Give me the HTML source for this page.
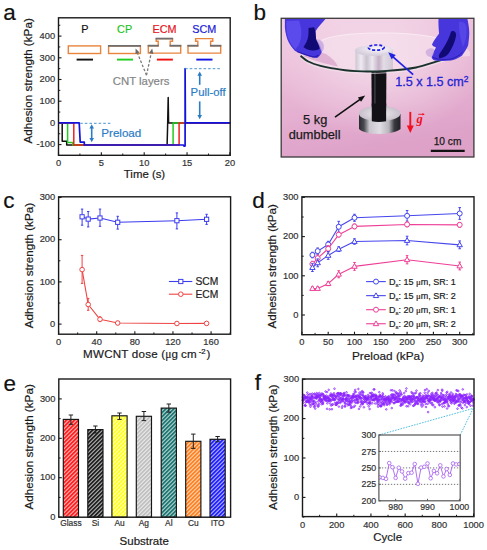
<!DOCTYPE html>
<html><head><meta charset="utf-8"><style>
html,body{margin:0;padding:0;background:#fff;}
svg{display:block;font-family:"Liberation Sans", sans-serif;}
</style></head><body>
<svg width="487" height="550" viewBox="0 0 487 550">
<rect width="487" height="550" fill="#fff"/>
<text x="3.20" y="19.80" font-size="22.5" fill="#111" text-anchor="start"  stroke="#111" stroke-width="0.2">a</text>
<text x="0" y="0" font-size="11.7" fill="#1a1a1a" stroke="#1a1a1a" stroke-width="0.2" text-anchor="middle" transform="translate(28.10,80.90) rotate(-90)" dy="0.35em">Adhesion strength (kPa)</text>
<text x="144.50" y="178.20" font-size="11.4" fill="#1a1a1a" text-anchor="middle"  stroke="#1a1a1a" stroke-width="0.2">Time (s)</text>
<line x1="58.50" y1="144.60" x2="61.50" y2="144.60" stroke="#1a1a1a" stroke-width="1.1" />
<text x="55.10" y="147.35" font-size="9.3" fill="#333333" text-anchor="end"  stroke="#333333" stroke-width="0.2">-100</text>
<line x1="58.50" y1="122.90" x2="61.50" y2="122.90" stroke="#1a1a1a" stroke-width="1.1" />
<text x="55.10" y="125.65" font-size="9.3" fill="#333333" text-anchor="end"  stroke="#333333" stroke-width="0.2">0</text>
<line x1="58.50" y1="101.20" x2="61.50" y2="101.20" stroke="#1a1a1a" stroke-width="1.1" />
<text x="55.10" y="103.95" font-size="9.3" fill="#333333" text-anchor="end"  stroke="#333333" stroke-width="0.2">100</text>
<line x1="58.50" y1="79.50" x2="61.50" y2="79.50" stroke="#1a1a1a" stroke-width="1.1" />
<text x="55.10" y="82.25" font-size="9.3" fill="#333333" text-anchor="end"  stroke="#333333" stroke-width="0.2">200</text>
<line x1="58.50" y1="57.80" x2="61.50" y2="57.80" stroke="#1a1a1a" stroke-width="1.1" />
<text x="55.10" y="60.55" font-size="9.3" fill="#333333" text-anchor="end"  stroke="#333333" stroke-width="0.2">300</text>
<line x1="58.50" y1="36.10" x2="61.50" y2="36.10" stroke="#1a1a1a" stroke-width="1.1" />
<text x="55.10" y="38.85" font-size="9.3" fill="#333333" text-anchor="end"  stroke="#333333" stroke-width="0.2">400</text>
<line x1="58.50" y1="133.75" x2="60.30" y2="133.75" stroke="#1a1a1a" stroke-width="1.0" />
<line x1="58.50" y1="112.05" x2="60.30" y2="112.05" stroke="#1a1a1a" stroke-width="1.0" />
<line x1="58.50" y1="90.35" x2="60.30" y2="90.35" stroke="#1a1a1a" stroke-width="1.0" />
<line x1="58.50" y1="68.65" x2="60.30" y2="68.65" stroke="#1a1a1a" stroke-width="1.0" />
<line x1="58.50" y1="46.95" x2="60.30" y2="46.95" stroke="#1a1a1a" stroke-width="1.0" />
<line x1="58.50" y1="25.25" x2="60.30" y2="25.25" stroke="#1a1a1a" stroke-width="1.0" />
<line x1="58.50" y1="155.30" x2="58.50" y2="152.30" stroke="#1a1a1a" stroke-width="1.1" />
<text x="58.50" y="166.00" font-size="9.3" fill="#333333" text-anchor="middle"  stroke="#333333" stroke-width="0.2">0</text>
<line x1="101.35" y1="155.30" x2="101.35" y2="152.30" stroke="#1a1a1a" stroke-width="1.1" />
<text x="101.35" y="166.00" font-size="9.3" fill="#333333" text-anchor="middle"  stroke="#333333" stroke-width="0.2">5</text>
<line x1="144.20" y1="155.30" x2="144.20" y2="152.30" stroke="#1a1a1a" stroke-width="1.1" />
<text x="144.20" y="166.00" font-size="9.3" fill="#333333" text-anchor="middle"  stroke="#333333" stroke-width="0.2">10</text>
<line x1="187.05" y1="155.30" x2="187.05" y2="152.30" stroke="#1a1a1a" stroke-width="1.1" />
<text x="187.05" y="166.00" font-size="9.3" fill="#333333" text-anchor="middle"  stroke="#333333" stroke-width="0.2">15</text>
<line x1="229.90" y1="155.30" x2="229.90" y2="152.30" stroke="#1a1a1a" stroke-width="1.1" />
<text x="229.90" y="166.00" font-size="9.3" fill="#333333" text-anchor="middle"  stroke="#333333" stroke-width="0.2">20</text>
<line x1="79.92" y1="155.30" x2="79.92" y2="153.50" stroke="#1a1a1a" stroke-width="1.0" />
<line x1="122.78" y1="155.30" x2="122.78" y2="153.50" stroke="#1a1a1a" stroke-width="1.0" />
<line x1="165.62" y1="155.30" x2="165.62" y2="153.50" stroke="#1a1a1a" stroke-width="1.0" />
<line x1="208.47" y1="155.30" x2="208.47" y2="153.50" stroke="#1a1a1a" stroke-width="1.0" />
<text x="84.80" y="33.00" font-size="10.8" fill="#111" text-anchor="middle"  stroke="#111" stroke-width="0.2">P</text>
<text x="124.60" y="33.00" font-size="10.8" fill="#1fc41f" text-anchor="middle"  stroke="#1fc41f" stroke-width="0.2">CP</text>
<text x="164.50" y="33.00" font-size="10.8" fill="#e8141e" text-anchor="middle"  stroke="#e8141e" stroke-width="0.2">ECM</text>
<text x="204.20" y="33.00" font-size="10.8" fill="#1c1cd8" text-anchor="middle"  stroke="#1c1cd8" stroke-width="0.2">SCM</text>
<rect x="68.3" y="45.9" width="32.3" height="7.6" fill="none" stroke="#e8843c" stroke-width="1.4"/>
<rect x="108.6" y="45.9" width="31.8" height="7.6" fill="none" stroke="#e8843c" stroke-width="1.4"/>
<line x1="108.00" y1="45.90" x2="141.00" y2="45.90" stroke="#6e6e6e" stroke-width="1.8" />
<path d="M148.30,45.70 L158.20,45.70 L158.20,41.20 L156.20,41.20 L156.20,38.60 L172.50,38.60 L172.50,41.20 L170.20,41.20 L170.20,45.70 L180.70,45.70 L180.70,53.10 L148.30,53.10 L148.30,45.70 Z" fill="none" stroke="#e8843c" stroke-width="1.4" stroke-linejoin="miter"/>
<line x1="147.70" y1="45.70" x2="158.80" y2="45.70" stroke="#6e6e6e" stroke-width="1.8" />
<line x1="169.60" y1="45.70" x2="181.30" y2="45.70" stroke="#6e6e6e" stroke-width="1.8" />
<line x1="155.60" y1="38.60" x2="173.10" y2="38.60" stroke="#6e6e6e" stroke-width="1.8" />
<path d="M188.00,45.70 L197.80,45.70 L197.80,41.20 L195.60,41.20 L195.60,38.60 L212.80,38.60 L212.80,41.20 L210.60,41.20 L210.60,45.70 L220.70,45.70 L220.70,53.10 L188.00,53.10 L188.00,45.70 Z" fill="none" stroke="#e8843c" stroke-width="1.4" stroke-linejoin="miter"/>
<line x1="187.40" y1="45.70" x2="198.40" y2="45.70" stroke="#6e6e6e" stroke-width="1.8" />
<line x1="210.00" y1="45.70" x2="221.30" y2="45.70" stroke="#6e6e6e" stroke-width="1.8" />
<line x1="76.60" y1="59.60" x2="93.00" y2="59.60" stroke="#111" stroke-width="1.9" />
<line x1="117.00" y1="59.60" x2="133.00" y2="59.60" stroke="#22cc22" stroke-width="1.9" />
<line x1="156.90" y1="59.60" x2="172.90" y2="59.60" stroke="#ee1111" stroke-width="1.9" />
<line x1="196.30" y1="59.60" x2="212.50" y2="59.60" stroke="#1515e0" stroke-width="1.9" />
<line x1="146.50" y1="75.20" x2="137.50" y2="53.23" stroke="#7a7a7a" stroke-width="1.3" stroke-dasharray="2.6,1.8"/>
<path d="M135.60,48.60 L139.53,52.39 L135.46,54.06 Z" fill="#6a6a6a"/>
<line x1="146.50" y1="75.20" x2="151.15" y2="53.49" stroke="#7a7a7a" stroke-width="1.3" stroke-dasharray="2.6,1.8"/>
<path d="M152.20,48.60 L153.30,53.95 L149.00,53.03 Z" fill="#6a6a6a"/>
<text x="112.70" y="84.50" font-size="11.4" fill="#858585" text-anchor="start"  stroke="#858585" stroke-width="0.2">CNT layers</text>
<polyline points="58.50,122.90 62.20,122.90 62.20,141.30 66.70,141.30 66.70,145.00 167.10,145.00 167.60,126.50 168.20,97.40 168.60,122.90 230.20,122.90" fill="none" stroke="#111" stroke-width="1.5" stroke-linejoin="round" />
<polyline points="58.50,122.90 67.60,122.90 67.60,142.50 72.80,142.50 72.80,145.00 173.10,145.00 173.10,122.90 230.20,122.90" fill="none" stroke="#22cc22" stroke-width="1.5" stroke-linejoin="round" />
<polyline points="58.50,122.90 73.80,122.90 73.80,145.00 179.10,145.00 179.10,122.90 230.20,122.90" fill="none" stroke="#ee2222" stroke-width="1.5" stroke-linejoin="round" />
<polyline points="58.50,122.90 79.20,122.90 80.20,142.10 84.30,142.10 84.30,145.00 183.30,145.00 184.20,146.20 185.10,146.00 185.10,68.70 185.40,122.90 230.20,122.90" fill="none" stroke="#1212dd" stroke-width="1.7" stroke-linejoin="round" />
<line x1="80.20" y1="123.30" x2="111.40" y2="123.30" stroke="#4a94d4" stroke-width="1.0" stroke-dasharray="2.6,2"/>
<line x1="91.70" y1="127.50" x2="91.70" y2="139.00" stroke="#2a7cc6" stroke-width="1.6" />
<path d="M91.7,124.2 L89.4,128.6 L94.0,128.6 Z" fill="#2a7cc6"/>
<path d="M91.7,142.3 L89.4,137.9 L94.0,137.9 Z" fill="#2a7cc6"/>
<text x="101.30" y="136.60" font-size="11.6" fill="#2a7cc6" text-anchor="start"  stroke="#2a7cc6" stroke-width="0.2">Preload</text>
<line x1="185.10" y1="68.70" x2="220.00" y2="68.70" stroke="#4a94d4" stroke-width="1.0" stroke-dasharray="2.6,2"/>
<line x1="199.70" y1="75.00" x2="199.70" y2="84.80" stroke="#2a7cc6" stroke-width="1.6" />
<path d="M199.7,71.4 L197.4,75.8 L202.0,75.8 Z" fill="#2a7cc6"/>
<line x1="199.70" y1="101.40" x2="199.70" y2="115.50" stroke="#2a7cc6" stroke-width="1.6" />
<path d="M199.7,119.3 L197.4,114.9 L202.0,114.9 Z" fill="#2a7cc6"/>
<text x="190.60" y="96.30" font-size="11.3" fill="#2a7cc6" text-anchor="start"  stroke="#2a7cc6" stroke-width="0.2">Pull-off</text>
<rect x="58.50" y="17.80" width="171.70" height="137.50" fill="none" stroke="#1a1a1a" stroke-width="1.4"/>
<text x="253.60" y="19.80" font-size="22.5" fill="#111" text-anchor="start"  stroke="#111" stroke-width="0.2">b</text>
<defs><linearGradient id="pk" x1="0" y1="0" x2="0.25" y2="1"><stop offset="0" stop-color="#f2cfe4"/><stop offset="0.45" stop-color="#e9b9d6"/><stop offset="1" stop-color="#dea2c9"/></linearGradient><radialGradient id="pk2" cx="0.5" cy="0.3" r="0.55"><stop offset="0" stop-color="#f6e2ee" stop-opacity="0.8"/><stop offset="1" stop-color="#f6e2ee" stop-opacity="0"/></radialGradient><linearGradient id="cyl" x1="0" y1="0" x2="1" y2="0"><stop offset="0" stop-color="#cec6d2"/><stop offset="0.15" stop-color="#eeeaf2"/><stop offset="0.3" stop-color="#cac2ce"/><stop offset="0.45" stop-color="#ebe7ef"/><stop offset="0.62" stop-color="#c4b0c4"/><stop offset="0.75" stop-color="#e2dce6"/><stop offset="1" stop-color="#d0c8d4"/></linearGradient><linearGradient id="cyl2" x1="0" y1="0" x2="1" y2="0"><stop offset="0" stop-color="#2a2a30"/><stop offset="0.12" stop-color="#4a4a52"/><stop offset="0.25" stop-color="#c8c6cc"/><stop offset="0.5" stop-color="#e0dee4"/><stop offset="0.72" stop-color="#b8b6bc"/><stop offset="0.85" stop-color="#3a3a40"/><stop offset="1" stop-color="#202026"/></linearGradient><radialGradient id="lid" cx="0.6" cy="0.35" r="0.6"><stop offset="0" stop-color="#fbf8fc"/><stop offset="1" stop-color="#d6cedc"/></radialGradient><radialGradient id="lid2" cx="0.5" cy="0.5" r="0.6"><stop offset="0" stop-color="#f0ecf2"/><stop offset="1" stop-color="#c0b8c4"/></radialGradient></defs>
<rect x="281.2" y="18.3" width="192.7" height="138.7" fill="url(#pk)"/>
<rect x="281.2" y="18.3" width="192.7" height="138.7" fill="url(#pk2)"/>
<path d="M300.60,55.80 C301.50,54.83 303.43,52.22 306.00,50.00 C308.57,47.78 312.00,44.58 316.00,42.50 C320.00,40.42 324.33,38.88 330.00,37.50 C335.67,36.12 342.00,34.95 350.00,34.20 C358.00,33.45 368.83,33.10 378.00,33.00 C387.17,32.90 396.33,33.02 405.00,33.60 C413.67,34.18 422.50,35.27 430.00,36.50 C437.50,37.73 444.33,39.25 450.00,41.00 C455.67,42.75 460.67,45.17 464.00,47.00 C467.33,48.83 469.00,51.17 470.00,52.00 L470,56 L449,57.6 449.00,57.60 C447.83,57.97 444.40,59.03 442.00,59.80 C439.60,60.57 437.88,61.18 434.60,62.20 C431.32,63.22 425.40,65.02 422.30,65.90 C419.20,66.78 419.25,66.90 416.00,67.50 C412.75,68.10 407.67,68.93 402.80,69.50 C397.93,70.07 392.55,70.57 386.80,70.90 C381.05,71.23 373.43,71.47 368.30,71.50 C363.17,71.53 359.83,71.32 356.00,71.10 C352.17,70.88 349.13,70.65 345.30,70.20 C341.47,69.75 337.12,69.12 333.00,68.40 C328.88,67.68 324.72,67.05 320.60,65.90 C316.48,64.75 311.63,63.18 308.30,61.50 C304.97,59.82 301.88,56.75 300.60,55.80 Z" fill="#f6e2ee" opacity="0.6"/>
<path d="M316.00,42.50 C318.33,41.67 324.33,38.88 330.00,37.50 C335.67,36.12 342.00,34.95 350.00,34.20 C358.00,33.45 368.83,33.10 378.00,33.00 C387.17,32.90 396.33,33.02 405.00,33.60 C413.67,34.18 422.50,35.27 430.00,36.50 C437.50,37.73 446.67,40.25 450.00,41.00" fill="none" stroke="#fbf0f6" stroke-width="1.0" opacity="0.8"/>
<path d="M303,56 C310,52 318,51 326,54 C332,58 336,62 338,66.5 C325,64 312,60 303,56 Z" fill="#cf8fc0" opacity="0.55"/>
<path d="M355.4,51 L355.4,71 C366,72.4 384,72.4 393,71 L393,51 Z" fill="url(#cyl)"/>
<ellipse cx="374.0" cy="50.6" rx="19.3" ry="5.4" fill="url(#lid)"/>
<ellipse cx="376.2" cy="47.6" rx="8.0" ry="2.6" fill="none" stroke="#1f1fe6" stroke-width="1.7" stroke-dasharray="3.0,1.9"/>
<path d="M371.4,71 L386.4,71 L386.1,120 L371.8,120 Z" fill="#121216"/>
<rect x="374.0" y="72" width="1.8" height="47" fill="#34343c"/>
<path d="M300.60,57.70 C301.88,58.65 304.97,61.72 308.30,63.40 C311.63,65.08 316.48,66.65 320.60,67.80 C324.72,68.95 328.88,69.58 333.00,70.30 C337.12,71.02 341.47,71.65 345.30,72.10 C349.13,72.55 352.17,72.78 356.00,73.00 C359.83,73.22 363.17,73.43 368.30,73.40 C373.43,73.37 381.05,73.13 386.80,72.80 C392.55,72.47 397.93,71.97 402.80,71.40 C407.67,70.83 412.75,70.00 416.00,69.40 C419.25,68.80 419.20,68.68 422.30,67.80 C425.40,66.92 431.32,65.12 434.60,64.10 C437.88,63.08 439.60,62.47 442.00,61.70 C444.40,60.93 447.83,59.87 449.00,59.50" fill="none" stroke="#f2e6ee" stroke-width="1.1" opacity="0.7"/>
<path d="M300.60,55.80 C301.88,56.75 304.97,59.82 308.30,61.50 C311.63,63.18 316.48,64.75 320.60,65.90 C324.72,67.05 328.88,67.68 333.00,68.40 C337.12,69.12 341.47,69.75 345.30,70.20 C349.13,70.65 352.17,70.88 356.00,71.10 C359.83,71.32 363.17,71.53 368.30,71.50 C373.43,71.47 381.05,71.23 386.80,70.90 C392.55,70.57 397.93,70.07 402.80,69.50 C407.67,68.93 412.75,68.10 416.00,67.50 C419.25,66.90 419.20,66.78 422.30,65.90 C425.40,65.02 431.32,63.22 434.60,62.20 C437.88,61.18 439.60,60.57 442.00,59.80 C444.40,59.03 447.83,57.97 449.00,57.60" fill="none" stroke="#1a322c" stroke-width="1.9"/>
<path d="M359,114 L359,129 C366,135.6 392,135.6 400.5,129 L400.5,114 Z" fill="url(#cyl2)"/>
<ellipse cx="379.7" cy="113.6" rx="20.8" ry="7.8" fill="url(#lid2)"/>
<path d="M371.7,103.5 L386.2,103.5 L386.1,121.2 C381,122.2 376,122.2 371.8,121.2 Z" fill="#121216"/>
<path d="M284.9,18.7 L325.6,18.7 C322,23 318,27 315.7,31 C315.5,35 316,38 316.3,39.6 C318,42 320,44.5 320.7,47 C321.5,49 322,51 321.9,52 C320.5,55 319,57 317,58.1 C312,57.5 308,56 304.6,54.4 C300,53 297,52 294.8,50.7 C291,47 289,43 287.4,39.6 C285.5,34 284.5,28 284.9,23.6 Z" fill="#4636dc"/>
<path d="M286.5,21 L299,20.5 C301,26 302,32 301,38 C300,43 298,47 295.5,49.5 C292,46 289.5,42 287.8,37 C286.5,32 286,26 286.5,21 Z" fill="#5d4ded" opacity="0.9"/>
<path d="M308.5,28 L314.2,27.2 C315.3,30 315.8,35 316.1,39.4 C318,42.5 319.5,45.5 319.6,48.5 C317.5,50.5 314,50.8 310.5,50.2 C307.5,49.6 305,48.6 303.5,47 C305.5,44 307.5,40.5 308.2,36.5 C308.6,33.5 308.6,30.5 308.5,28 Z" fill="#120a74"/>
<path d="M316.5,40 C319,38.5 322,40 323.5,44 C324.5,48 323.5,51 321.5,52 C320,48 318.5,44 316.5,40 Z" fill="#c4a4e0" opacity="0.8"/>
<path d="M297,51.5 C302,53.8 308,55.5 313,56.8 C315.5,57.2 317,56.5 318.5,55" fill="none" stroke="#2a1cb0" stroke-width="1.2"/>
<path d="M438.5,18.7 L467.4,18.7 C468.5,24 469.3,29 469.3,33.5 C469,38 468.7,42 468,45.8 C466,50 464,53 461.9,55.7 C458,58.5 454,60 450.8,60.6 C446,61 440,61 434.8,60.6 C432.5,59.5 431.5,58 431.7,56.9 C432.5,54 434,51 436,47.5 C434,46.8 432.2,45.8 432.0,44.6 C433.5,41 436.5,37 439.1,33.5 C438.6,28 438.3,23 438.5,18.7 Z" fill="#4636dc"/>
<path d="M452,31 C455,30.5 456.5,33 456,36 C455,42 452,48 449,53 C446.5,56.5 443,58 439.5,58.2 C438,56 439.5,53.5 441.5,51 C445,46 448,40 450,35 C450.5,33 451,31.5 452,31 Z" fill="#120a74"/>
<path d="M459,22 C463,21 466,23 466.5,28 C467,35 465.5,42 463,47 C461,41 459.5,34 459,28 Z" fill="#5d4ded" opacity="0.7"/>
<path d="M433,57.5 C438,59.5 445,60 451,59 C456,57.5 460,55 462.5,52" fill="none" stroke="#2a1cb0" stroke-width="1.0"/>
<path d="M425.5,52 C427,48.5 431,47.5 434,49 C434.5,52 433.5,55.5 431.5,57 C428,57 426,55 425.5,52 Z" fill="#c6a2dc" opacity="0.7"/>
<line x1="413.2" y1="74.6" x2="392.4" y2="56.4" stroke="#2222e2" stroke-width="1.7"/>
<path d="M388.2,52.3 L395.8,55.0 L391.6,59.2 Z" fill="#2222e2"/>
<text x="395.20" y="86.00" font-size="12.6" fill="#2424d4" text-anchor="start" stroke="#2424d4" stroke-width="0.3">1.5 x 1.5 cm<tspan font-size="8.5" dy="-4.5">2</tspan></text>
<line x1="335" y1="117.2" x2="361.5" y2="98.3" stroke="#111" stroke-width="1.6"/>
<path d="M365.2,95.6 L357.9,97.4 L361.1,101.8 Z" fill="#111"/>
<text x="315.20" y="124.20" font-size="12.8" fill="#1a1a1a" text-anchor="middle" stroke="#1a1a1a" stroke-width="0.25">5 kg</text>
<text x="314.60" y="139.30" font-size="12.8" fill="#1a1a1a" text-anchor="middle" stroke="#1a1a1a" stroke-width="0.25">dumbbell</text>
<line x1="410.30" y1="111.90" x2="410.30" y2="127.50" stroke="#f01020" stroke-width="1.9" />
<path d="M410.3,132.9 L406.8,125.6 L413.8,125.6 Z" fill="#f01020"/>
<text x="416.4" y="123.4" font-size="12.5" fill="#f01020" font-family="Liberation Serif" font-style="italic" font-weight="bold">g</text>
<line x1="418.30" y1="114.30" x2="423.60" y2="114.30" stroke="#f01020" stroke-width="0.9" />
<path d="M424.8,114.3 L422.4,113.0 L422.4,115.6 Z" fill="#f01020"/>
<text x="447.50" y="144.70" font-size="10.2" fill="#1a1a1a" text-anchor="middle" stroke="#1a1a1a" stroke-width="0.25">10 cm</text>
<line x1="430.80" y1="150.80" x2="464.70" y2="150.80" stroke="#111" stroke-width="2.3" />
<rect x="281.2" y="18.3" width="192.7" height="138.7" fill="none" stroke="#3a3a3a" stroke-width="1.3"/>
<text x="3.30" y="208.00" font-size="22.5" fill="#111" text-anchor="start"  stroke="#111" stroke-width="0.2">c</text>
<text x="0" y="0" font-size="11.7" fill="#1a1a1a" stroke="#1a1a1a" stroke-width="0.2" text-anchor="middle" transform="translate(28.90,265.60) rotate(-90)" dy="0.35em">Adhesion strength (kPa)</text>
<line x1="58.60" y1="324.10" x2="61.60" y2="324.10" stroke="#1a1a1a" stroke-width="1.1" />
<text x="55.20" y="326.85" font-size="9.3" fill="#333333" text-anchor="end"  stroke="#333333" stroke-width="0.2">0</text>
<line x1="58.60" y1="281.90" x2="61.60" y2="281.90" stroke="#1a1a1a" stroke-width="1.1" />
<text x="55.20" y="284.65" font-size="9.3" fill="#333333" text-anchor="end"  stroke="#333333" stroke-width="0.2">100</text>
<line x1="58.60" y1="239.70" x2="61.60" y2="239.70" stroke="#1a1a1a" stroke-width="1.1" />
<text x="55.20" y="242.45" font-size="9.3" fill="#333333" text-anchor="end"  stroke="#333333" stroke-width="0.2">200</text>
<line x1="58.60" y1="197.50" x2="61.60" y2="197.50" stroke="#1a1a1a" stroke-width="1.1" />
<text x="55.20" y="200.25" font-size="9.3" fill="#333333" text-anchor="end"  stroke="#333333" stroke-width="0.2">300</text>
<line x1="58.60" y1="303.00" x2="60.40" y2="303.00" stroke="#1a1a1a" stroke-width="1.0" />
<line x1="58.60" y1="260.80" x2="60.40" y2="260.80" stroke="#1a1a1a" stroke-width="1.0" />
<line x1="58.60" y1="218.60" x2="60.40" y2="218.60" stroke="#1a1a1a" stroke-width="1.0" />
<line x1="58.60" y1="334.20" x2="58.60" y2="331.20" stroke="#1a1a1a" stroke-width="1.1" />
<text x="58.60" y="345.00" font-size="9.3" fill="#333333" text-anchor="middle"  stroke="#333333" stroke-width="0.2">0</text>
<line x1="96.72" y1="334.20" x2="96.72" y2="331.20" stroke="#1a1a1a" stroke-width="1.1" />
<text x="96.72" y="345.00" font-size="9.3" fill="#333333" text-anchor="middle"  stroke="#333333" stroke-width="0.2">40</text>
<line x1="134.84" y1="334.20" x2="134.84" y2="331.20" stroke="#1a1a1a" stroke-width="1.1" />
<text x="134.84" y="345.00" font-size="9.3" fill="#333333" text-anchor="middle"  stroke="#333333" stroke-width="0.2">80</text>
<line x1="172.96" y1="334.20" x2="172.96" y2="331.20" stroke="#1a1a1a" stroke-width="1.1" />
<text x="172.96" y="345.00" font-size="9.3" fill="#333333" text-anchor="middle"  stroke="#333333" stroke-width="0.2">120</text>
<line x1="211.08" y1="334.20" x2="211.08" y2="331.20" stroke="#1a1a1a" stroke-width="1.1" />
<text x="211.08" y="345.00" font-size="9.3" fill="#333333" text-anchor="middle"  stroke="#333333" stroke-width="0.2">160</text>
<line x1="77.66" y1="334.20" x2="77.66" y2="332.40" stroke="#1a1a1a" stroke-width="1.0" />
<line x1="115.78" y1="334.20" x2="115.78" y2="332.40" stroke="#1a1a1a" stroke-width="1.0" />
<line x1="153.90" y1="334.20" x2="153.90" y2="332.40" stroke="#1a1a1a" stroke-width="1.0" />
<line x1="192.02" y1="334.20" x2="192.02" y2="332.40" stroke="#1a1a1a" stroke-width="1.0" />
<line x1="230.14" y1="334.20" x2="230.14" y2="332.40" stroke="#1a1a1a" stroke-width="1.0" />
<text x="83.10" y="357.90" font-size="11.6" fill="#1a1a1a" text-anchor="start"  stroke="#1a1a1a" stroke-width="0.2"><tspan letter-spacing="0.22">MWCNT dose </tspan>(<tspan font-family="Liberation Serif">&#956;</tspan>g cm<tspan font-size="7.8" dx="2.2" dy="-4.2">-2</tspan><tspan dx="0.8" dy="4.2">)</tspan></text>
<polyline points="82.10,269.60 88.20,304.50 100.00,319.30 117.70,323.00 176.90,323.50 206.60,323.40" fill="none" stroke="#ee4444" stroke-width="1.1" stroke-linejoin="round" />
<line x1="82.10" y1="255.40" x2="82.10" y2="283.40" stroke="#ee4444" stroke-width="1.0" />
<line x1="80.90" y1="255.40" x2="83.30" y2="255.40" stroke="#ee4444" stroke-width="1.0" />
<line x1="80.90" y1="283.40" x2="83.30" y2="283.40" stroke="#ee4444" stroke-width="1.0" />
<line x1="88.20" y1="298.40" x2="88.20" y2="310.30" stroke="#ee4444" stroke-width="1.0" />
<line x1="87.00" y1="298.40" x2="89.40" y2="298.40" stroke="#ee4444" stroke-width="1.0" />
<line x1="87.00" y1="310.30" x2="89.40" y2="310.30" stroke="#ee4444" stroke-width="1.0" />
<line x1="100.00" y1="316.80" x2="100.00" y2="321.60" stroke="#ee4444" stroke-width="1.0" />
<line x1="98.80" y1="316.80" x2="101.20" y2="316.80" stroke="#ee4444" stroke-width="1.0" />
<line x1="98.80" y1="321.60" x2="101.20" y2="321.60" stroke="#ee4444" stroke-width="1.0" />
<line x1="117.70" y1="321.40" x2="117.70" y2="324.60" stroke="#ee4444" stroke-width="1.0" />
<line x1="116.50" y1="321.40" x2="118.90" y2="321.40" stroke="#ee4444" stroke-width="1.0" />
<line x1="116.50" y1="324.60" x2="118.90" y2="324.60" stroke="#ee4444" stroke-width="1.0" />
<line x1="176.90" y1="322.00" x2="176.90" y2="325.00" stroke="#ee4444" stroke-width="1.0" />
<line x1="175.70" y1="322.00" x2="178.10" y2="322.00" stroke="#ee4444" stroke-width="1.0" />
<line x1="175.70" y1="325.00" x2="178.10" y2="325.00" stroke="#ee4444" stroke-width="1.0" />
<line x1="206.60" y1="322.00" x2="206.60" y2="325.00" stroke="#ee4444" stroke-width="1.0" />
<line x1="205.40" y1="322.00" x2="207.80" y2="322.00" stroke="#ee4444" stroke-width="1.0" />
<line x1="205.40" y1="325.00" x2="207.80" y2="325.00" stroke="#ee4444" stroke-width="1.0" />
<circle cx="82.1" cy="269.6" r="2.3" fill="white" stroke="#ee4444" stroke-width="1.0"/>
<circle cx="88.2" cy="304.5" r="2.3" fill="white" stroke="#ee4444" stroke-width="1.0"/>
<circle cx="100.0" cy="319.3" r="2.3" fill="white" stroke="#ee4444" stroke-width="1.0"/>
<circle cx="117.7" cy="323.0" r="2.3" fill="white" stroke="#ee4444" stroke-width="1.0"/>
<circle cx="176.9" cy="323.5" r="2.3" fill="white" stroke="#ee4444" stroke-width="1.0"/>
<circle cx="206.6" cy="323.4" r="2.3" fill="white" stroke="#ee4444" stroke-width="1.0"/>
<polyline points="82.10,216.80 88.20,219.10 100.00,218.00 117.70,222.30 176.90,220.70 206.60,219.30" fill="none" stroke="#3c3cf0" stroke-width="1.1" stroke-linejoin="round" />
<line x1="82.10" y1="209.10" x2="82.10" y2="225.20" stroke="#3c3cf0" stroke-width="1.0" />
<line x1="80.90" y1="209.10" x2="83.30" y2="209.10" stroke="#3c3cf0" stroke-width="1.0" />
<line x1="80.90" y1="225.20" x2="83.30" y2="225.20" stroke="#3c3cf0" stroke-width="1.0" />
<line x1="88.20" y1="211.50" x2="88.20" y2="226.90" stroke="#3c3cf0" stroke-width="1.0" />
<line x1="87.00" y1="211.50" x2="89.40" y2="211.50" stroke="#3c3cf0" stroke-width="1.0" />
<line x1="87.00" y1="226.90" x2="89.40" y2="226.90" stroke="#3c3cf0" stroke-width="1.0" />
<line x1="100.00" y1="209.10" x2="100.00" y2="226.30" stroke="#3c3cf0" stroke-width="1.0" />
<line x1="98.80" y1="209.10" x2="101.20" y2="209.10" stroke="#3c3cf0" stroke-width="1.0" />
<line x1="98.80" y1="226.30" x2="101.20" y2="226.30" stroke="#3c3cf0" stroke-width="1.0" />
<line x1="117.70" y1="216.30" x2="117.70" y2="229.10" stroke="#3c3cf0" stroke-width="1.0" />
<line x1="116.50" y1="216.30" x2="118.90" y2="216.30" stroke="#3c3cf0" stroke-width="1.0" />
<line x1="116.50" y1="229.10" x2="118.90" y2="229.10" stroke="#3c3cf0" stroke-width="1.0" />
<line x1="176.90" y1="212.90" x2="176.90" y2="228.90" stroke="#3c3cf0" stroke-width="1.0" />
<line x1="175.70" y1="212.90" x2="178.10" y2="212.90" stroke="#3c3cf0" stroke-width="1.0" />
<line x1="175.70" y1="228.90" x2="178.10" y2="228.90" stroke="#3c3cf0" stroke-width="1.0" />
<line x1="206.60" y1="214.30" x2="206.60" y2="224.40" stroke="#3c3cf0" stroke-width="1.0" />
<line x1="205.40" y1="214.30" x2="207.80" y2="214.30" stroke="#3c3cf0" stroke-width="1.0" />
<line x1="205.40" y1="224.40" x2="207.80" y2="224.40" stroke="#3c3cf0" stroke-width="1.0" />
<rect x="80.0" y="214.70000000000002" width="4.2" height="4.2" fill="white" stroke="#3c3cf0" stroke-width="1.0"/>
<rect x="86.10000000000001" y="217.0" width="4.2" height="4.2" fill="white" stroke="#3c3cf0" stroke-width="1.0"/>
<rect x="97.9" y="215.9" width="4.2" height="4.2" fill="white" stroke="#3c3cf0" stroke-width="1.0"/>
<rect x="115.60000000000001" y="220.20000000000002" width="4.2" height="4.2" fill="white" stroke="#3c3cf0" stroke-width="1.0"/>
<rect x="174.8" y="218.6" width="4.2" height="4.2" fill="white" stroke="#3c3cf0" stroke-width="1.0"/>
<rect x="204.5" y="217.20000000000002" width="4.2" height="4.2" fill="white" stroke="#3c3cf0" stroke-width="1.0"/>
<line x1="168.90" y1="281.50" x2="192.30" y2="281.50" stroke="#3c3cf0" stroke-width="1.1" />
<rect x="178.70000000000002" y="279.4" width="4.2" height="4.2" fill="white" stroke="#3c3cf0" stroke-width="1.0"/>
<text x="195.40" y="284.90" font-size="10.3" fill="#222" text-anchor="start"  stroke="#222" stroke-width="0.2">SCM</text>
<line x1="168.90" y1="294.20" x2="192.30" y2="294.20" stroke="#ee4444" stroke-width="1.1" />
<circle cx="180.8" cy="294.2" r="2.3" fill="white" stroke="#ee4444" stroke-width="1.0"/>
<text x="195.40" y="297.60" font-size="10.3" fill="#222" text-anchor="start"  stroke="#222" stroke-width="0.2">ECM</text>
<rect x="58.60" y="196.80" width="172.00" height="137.40" fill="none" stroke="#1a1a1a" stroke-width="1.4"/>
<text x="252.30" y="207.80" font-size="22.5" fill="#111" text-anchor="start"  stroke="#111" stroke-width="0.2">d</text>
<text x="0" y="0" font-size="11.6" fill="#1a1a1a" stroke="#1a1a1a" stroke-width="0.2" text-anchor="middle" transform="translate(271.50,266.30) rotate(-90)" dy="0.35em">Adhesion strength (kPa)</text>
<line x1="301.90" y1="315.00" x2="304.90" y2="315.00" stroke="#1a1a1a" stroke-width="1.1" />
<text x="298.50" y="317.75" font-size="9.3" fill="#333333" text-anchor="end"  stroke="#333333" stroke-width="0.2">0</text>
<line x1="301.90" y1="275.80" x2="304.90" y2="275.80" stroke="#1a1a1a" stroke-width="1.1" />
<text x="298.50" y="278.55" font-size="9.3" fill="#333333" text-anchor="end"  stroke="#333333" stroke-width="0.2">100</text>
<line x1="301.90" y1="236.60" x2="304.90" y2="236.60" stroke="#1a1a1a" stroke-width="1.1" />
<text x="298.50" y="239.35" font-size="9.3" fill="#333333" text-anchor="end"  stroke="#333333" stroke-width="0.2">200</text>
<line x1="301.90" y1="197.40" x2="304.90" y2="197.40" stroke="#1a1a1a" stroke-width="1.1" />
<text x="298.50" y="200.15" font-size="9.3" fill="#333333" text-anchor="end"  stroke="#333333" stroke-width="0.2">300</text>
<line x1="301.90" y1="334.60" x2="303.70" y2="334.60" stroke="#1a1a1a" stroke-width="1.0" />
<line x1="301.90" y1="295.40" x2="303.70" y2="295.40" stroke="#1a1a1a" stroke-width="1.0" />
<line x1="301.90" y1="256.20" x2="303.70" y2="256.20" stroke="#1a1a1a" stroke-width="1.0" />
<line x1="301.90" y1="217.00" x2="303.70" y2="217.00" stroke="#1a1a1a" stroke-width="1.0" />
<line x1="301.90" y1="334.70" x2="301.90" y2="331.70" stroke="#1a1a1a" stroke-width="1.1" />
<text x="301.90" y="345.30" font-size="9.3" fill="#333333" text-anchor="middle"  stroke="#333333" stroke-width="0.2">0</text>
<line x1="328.20" y1="334.70" x2="328.20" y2="331.70" stroke="#1a1a1a" stroke-width="1.1" />
<text x="328.20" y="345.30" font-size="9.3" fill="#333333" text-anchor="middle"  stroke="#333333" stroke-width="0.2">50</text>
<line x1="354.50" y1="334.70" x2="354.50" y2="331.70" stroke="#1a1a1a" stroke-width="1.1" />
<text x="354.50" y="345.30" font-size="9.3" fill="#333333" text-anchor="middle"  stroke="#333333" stroke-width="0.2">100</text>
<line x1="380.80" y1="334.70" x2="380.80" y2="331.70" stroke="#1a1a1a" stroke-width="1.1" />
<text x="380.80" y="345.30" font-size="9.3" fill="#333333" text-anchor="middle"  stroke="#333333" stroke-width="0.2">150</text>
<line x1="407.10" y1="334.70" x2="407.10" y2="331.70" stroke="#1a1a1a" stroke-width="1.1" />
<text x="407.10" y="345.30" font-size="9.3" fill="#333333" text-anchor="middle"  stroke="#333333" stroke-width="0.2">200</text>
<line x1="433.40" y1="334.70" x2="433.40" y2="331.70" stroke="#1a1a1a" stroke-width="1.1" />
<text x="433.40" y="345.30" font-size="9.3" fill="#333333" text-anchor="middle"  stroke="#333333" stroke-width="0.2">250</text>
<line x1="459.70" y1="334.70" x2="459.70" y2="331.70" stroke="#1a1a1a" stroke-width="1.1" />
<text x="459.70" y="345.30" font-size="9.3" fill="#333333" text-anchor="middle"  stroke="#333333" stroke-width="0.2">300</text>
<line x1="315.05" y1="334.70" x2="315.05" y2="332.90" stroke="#1a1a1a" stroke-width="1.0" />
<line x1="341.35" y1="334.70" x2="341.35" y2="332.90" stroke="#1a1a1a" stroke-width="1.0" />
<line x1="367.65" y1="334.70" x2="367.65" y2="332.90" stroke="#1a1a1a" stroke-width="1.0" />
<line x1="393.95" y1="334.70" x2="393.95" y2="332.90" stroke="#1a1a1a" stroke-width="1.0" />
<line x1="420.25" y1="334.70" x2="420.25" y2="332.90" stroke="#1a1a1a" stroke-width="1.0" />
<line x1="446.55" y1="334.70" x2="446.55" y2="332.90" stroke="#1a1a1a" stroke-width="1.0" />
<line x1="472.85" y1="334.70" x2="472.85" y2="332.90" stroke="#1a1a1a" stroke-width="1.0" />
<text x="388.00" y="359.70" font-size="11.8" fill="#1a1a1a" text-anchor="middle"  stroke="#1a1a1a" stroke-width="0.2">Preload (kPa)</text>
<polyline points="312.42,255.02 317.68,251.10 328.20,244.44 338.72,226.80 354.50,217.78 407.10,215.82 459.70,213.47" fill="none" stroke="#4646ee" stroke-width="1.1" stroke-linejoin="round" />
<line x1="312.42" y1="252.28" x2="312.42" y2="257.77" stroke="#4646ee" stroke-width="1.0" />
<line x1="311.12" y1="252.28" x2="313.72" y2="252.28" stroke="#4646ee" stroke-width="1.0" />
<line x1="311.12" y1="257.77" x2="313.72" y2="257.77" stroke="#4646ee" stroke-width="1.0" />
<line x1="317.68" y1="247.97" x2="317.68" y2="254.24" stroke="#4646ee" stroke-width="1.0" />
<line x1="316.38" y1="247.97" x2="318.98" y2="247.97" stroke="#4646ee" stroke-width="1.0" />
<line x1="316.38" y1="254.24" x2="318.98" y2="254.24" stroke="#4646ee" stroke-width="1.0" />
<line x1="328.20" y1="241.30" x2="328.20" y2="247.58" stroke="#4646ee" stroke-width="1.0" />
<line x1="326.90" y1="241.30" x2="329.50" y2="241.30" stroke="#4646ee" stroke-width="1.0" />
<line x1="326.90" y1="247.58" x2="329.50" y2="247.58" stroke="#4646ee" stroke-width="1.0" />
<line x1="338.72" y1="221.31" x2="338.72" y2="232.29" stroke="#4646ee" stroke-width="1.0" />
<line x1="337.42" y1="221.31" x2="340.02" y2="221.31" stroke="#4646ee" stroke-width="1.0" />
<line x1="337.42" y1="232.29" x2="340.02" y2="232.29" stroke="#4646ee" stroke-width="1.0" />
<line x1="354.50" y1="214.26" x2="354.50" y2="221.31" stroke="#4646ee" stroke-width="1.0" />
<line x1="353.20" y1="214.26" x2="355.80" y2="214.26" stroke="#4646ee" stroke-width="1.0" />
<line x1="353.20" y1="221.31" x2="355.80" y2="221.31" stroke="#4646ee" stroke-width="1.0" />
<line x1="407.10" y1="210.53" x2="407.10" y2="221.12" stroke="#4646ee" stroke-width="1.0" />
<line x1="405.80" y1="210.53" x2="408.40" y2="210.53" stroke="#4646ee" stroke-width="1.0" />
<line x1="405.80" y1="221.12" x2="408.40" y2="221.12" stroke="#4646ee" stroke-width="1.0" />
<line x1="459.70" y1="207.59" x2="459.70" y2="219.35" stroke="#4646ee" stroke-width="1.0" />
<line x1="458.40" y1="207.59" x2="461.00" y2="207.59" stroke="#4646ee" stroke-width="1.0" />
<line x1="458.40" y1="219.35" x2="461.00" y2="219.35" stroke="#4646ee" stroke-width="1.0" />
<circle cx="312.42" cy="255.02" r="2.5" fill="white" stroke="#4646ee" stroke-width="1.0"/>
<circle cx="317.68" cy="251.10" r="2.5" fill="white" stroke="#4646ee" stroke-width="1.0"/>
<circle cx="328.20" cy="244.44" r="2.5" fill="white" stroke="#4646ee" stroke-width="1.0"/>
<circle cx="338.72" cy="226.80" r="2.5" fill="white" stroke="#4646ee" stroke-width="1.0"/>
<circle cx="354.50" cy="217.78" r="2.5" fill="white" stroke="#4646ee" stroke-width="1.0"/>
<circle cx="407.10" cy="215.82" r="2.5" fill="white" stroke="#4646ee" stroke-width="1.0"/>
<circle cx="459.70" cy="213.47" r="2.5" fill="white" stroke="#4646ee" stroke-width="1.0"/>
<polyline points="312.42,264.04 317.68,258.16 328.20,248.75 338.72,234.64 354.50,226.41 407.10,224.45 459.70,224.84" fill="none" stroke="#ee3f96" stroke-width="1.1" stroke-linejoin="round" />
<line x1="312.42" y1="261.30" x2="312.42" y2="266.78" stroke="#ee3f96" stroke-width="1.0" />
<line x1="311.12" y1="261.30" x2="313.72" y2="261.30" stroke="#ee3f96" stroke-width="1.0" />
<line x1="311.12" y1="266.78" x2="313.72" y2="266.78" stroke="#ee3f96" stroke-width="1.0" />
<line x1="317.68" y1="255.02" x2="317.68" y2="261.30" stroke="#ee3f96" stroke-width="1.0" />
<line x1="316.38" y1="255.02" x2="318.98" y2="255.02" stroke="#ee3f96" stroke-width="1.0" />
<line x1="316.38" y1="261.30" x2="318.98" y2="261.30" stroke="#ee3f96" stroke-width="1.0" />
<line x1="328.20" y1="245.62" x2="328.20" y2="251.89" stroke="#ee3f96" stroke-width="1.0" />
<line x1="326.90" y1="245.62" x2="329.50" y2="245.62" stroke="#ee3f96" stroke-width="1.0" />
<line x1="326.90" y1="251.89" x2="329.50" y2="251.89" stroke="#ee3f96" stroke-width="1.0" />
<line x1="338.72" y1="232.29" x2="338.72" y2="236.99" stroke="#ee3f96" stroke-width="1.0" />
<line x1="337.42" y1="232.29" x2="340.02" y2="232.29" stroke="#ee3f96" stroke-width="1.0" />
<line x1="337.42" y1="236.99" x2="340.02" y2="236.99" stroke="#ee3f96" stroke-width="1.0" />
<line x1="354.50" y1="224.06" x2="354.50" y2="228.76" stroke="#ee3f96" stroke-width="1.0" />
<line x1="353.20" y1="224.06" x2="355.80" y2="224.06" stroke="#ee3f96" stroke-width="1.0" />
<line x1="353.20" y1="228.76" x2="355.80" y2="228.76" stroke="#ee3f96" stroke-width="1.0" />
<line x1="407.10" y1="222.10" x2="407.10" y2="226.80" stroke="#ee3f96" stroke-width="1.0" />
<line x1="405.80" y1="222.10" x2="408.40" y2="222.10" stroke="#ee3f96" stroke-width="1.0" />
<line x1="405.80" y1="226.80" x2="408.40" y2="226.80" stroke="#ee3f96" stroke-width="1.0" />
<line x1="459.70" y1="222.49" x2="459.70" y2="227.19" stroke="#ee3f96" stroke-width="1.0" />
<line x1="458.40" y1="222.49" x2="461.00" y2="222.49" stroke="#ee3f96" stroke-width="1.0" />
<line x1="458.40" y1="227.19" x2="461.00" y2="227.19" stroke="#ee3f96" stroke-width="1.0" />
<circle cx="312.42" cy="264.04" r="2.5" fill="white" stroke="#ee3f96" stroke-width="1.0"/>
<circle cx="317.68" cy="258.16" r="2.5" fill="white" stroke="#ee3f96" stroke-width="1.0"/>
<circle cx="328.20" cy="248.75" r="2.5" fill="white" stroke="#ee3f96" stroke-width="1.0"/>
<circle cx="338.72" cy="234.64" r="2.5" fill="white" stroke="#ee3f96" stroke-width="1.0"/>
<circle cx="354.50" cy="226.41" r="2.5" fill="white" stroke="#ee3f96" stroke-width="1.0"/>
<circle cx="407.10" cy="224.45" r="2.5" fill="white" stroke="#ee3f96" stroke-width="1.0"/>
<circle cx="459.70" cy="224.84" r="2.5" fill="white" stroke="#ee3f96" stroke-width="1.0"/>
<polyline points="312.42,267.57 317.68,262.86 328.20,255.42 338.72,249.14 354.50,241.50 407.10,240.52 459.70,244.83" fill="none" stroke="#4646ee" stroke-width="1.1" stroke-linejoin="round" />
<line x1="312.42" y1="263.65" x2="312.42" y2="271.49" stroke="#4646ee" stroke-width="1.0" />
<line x1="311.12" y1="263.65" x2="313.72" y2="263.65" stroke="#4646ee" stroke-width="1.0" />
<line x1="311.12" y1="271.49" x2="313.72" y2="271.49" stroke="#4646ee" stroke-width="1.0" />
<line x1="317.68" y1="258.94" x2="317.68" y2="266.78" stroke="#4646ee" stroke-width="1.0" />
<line x1="316.38" y1="258.94" x2="318.98" y2="258.94" stroke="#4646ee" stroke-width="1.0" />
<line x1="316.38" y1="266.78" x2="318.98" y2="266.78" stroke="#4646ee" stroke-width="1.0" />
<line x1="328.20" y1="251.50" x2="328.20" y2="259.34" stroke="#4646ee" stroke-width="1.0" />
<line x1="326.90" y1="251.50" x2="329.50" y2="251.50" stroke="#4646ee" stroke-width="1.0" />
<line x1="326.90" y1="259.34" x2="329.50" y2="259.34" stroke="#4646ee" stroke-width="1.0" />
<line x1="338.72" y1="246.79" x2="338.72" y2="251.50" stroke="#4646ee" stroke-width="1.0" />
<line x1="337.42" y1="246.79" x2="340.02" y2="246.79" stroke="#4646ee" stroke-width="1.0" />
<line x1="337.42" y1="251.50" x2="340.02" y2="251.50" stroke="#4646ee" stroke-width="1.0" />
<line x1="354.50" y1="238.76" x2="354.50" y2="244.24" stroke="#4646ee" stroke-width="1.0" />
<line x1="353.20" y1="238.76" x2="355.80" y2="238.76" stroke="#4646ee" stroke-width="1.0" />
<line x1="353.20" y1="244.24" x2="355.80" y2="244.24" stroke="#4646ee" stroke-width="1.0" />
<line x1="407.10" y1="236.21" x2="407.10" y2="244.83" stroke="#4646ee" stroke-width="1.0" />
<line x1="405.80" y1="236.21" x2="408.40" y2="236.21" stroke="#4646ee" stroke-width="1.0" />
<line x1="405.80" y1="244.83" x2="408.40" y2="244.83" stroke="#4646ee" stroke-width="1.0" />
<line x1="459.70" y1="240.91" x2="459.70" y2="248.75" stroke="#4646ee" stroke-width="1.0" />
<line x1="458.40" y1="240.91" x2="461.00" y2="240.91" stroke="#4646ee" stroke-width="1.0" />
<line x1="458.40" y1="248.75" x2="461.00" y2="248.75" stroke="#4646ee" stroke-width="1.0" />
<path d="M312.42,264.77 L315.12,269.47 L309.72,269.47 Z" fill="white" stroke="#4646ee" stroke-width="1.0"/>
<path d="M317.68,260.06 L320.38,264.76 L314.98,264.76 Z" fill="white" stroke="#4646ee" stroke-width="1.0"/>
<path d="M328.20,252.62 L330.90,257.32 L325.50,257.32 Z" fill="white" stroke="#4646ee" stroke-width="1.0"/>
<path d="M338.72,246.34 L341.42,251.04 L336.02,251.04 Z" fill="white" stroke="#4646ee" stroke-width="1.0"/>
<path d="M354.50,238.70 L357.20,243.40 L351.80,243.40 Z" fill="white" stroke="#4646ee" stroke-width="1.0"/>
<path d="M407.10,237.72 L409.80,242.42 L404.40,242.42 Z" fill="white" stroke="#4646ee" stroke-width="1.0"/>
<path d="M459.70,242.03 L462.40,246.73 L457.00,246.73 Z" fill="white" stroke="#4646ee" stroke-width="1.0"/>
<polyline points="312.42,288.50 317.68,288.50 328.20,283.64 338.72,274.23 354.50,266.39 407.10,259.73 459.70,266.00" fill="none" stroke="#ee3f96" stroke-width="1.1" stroke-linejoin="round" />
<line x1="312.42" y1="286.93" x2="312.42" y2="290.07" stroke="#ee3f96" stroke-width="1.0" />
<line x1="311.12" y1="286.93" x2="313.72" y2="286.93" stroke="#ee3f96" stroke-width="1.0" />
<line x1="311.12" y1="290.07" x2="313.72" y2="290.07" stroke="#ee3f96" stroke-width="1.0" />
<line x1="317.68" y1="286.93" x2="317.68" y2="290.07" stroke="#ee3f96" stroke-width="1.0" />
<line x1="316.38" y1="286.93" x2="318.98" y2="286.93" stroke="#ee3f96" stroke-width="1.0" />
<line x1="316.38" y1="290.07" x2="318.98" y2="290.07" stroke="#ee3f96" stroke-width="1.0" />
<line x1="328.20" y1="281.68" x2="328.20" y2="285.60" stroke="#ee3f96" stroke-width="1.0" />
<line x1="326.90" y1="281.68" x2="329.50" y2="281.68" stroke="#ee3f96" stroke-width="1.0" />
<line x1="326.90" y1="285.60" x2="329.50" y2="285.60" stroke="#ee3f96" stroke-width="1.0" />
<line x1="338.72" y1="270.70" x2="338.72" y2="277.76" stroke="#ee3f96" stroke-width="1.0" />
<line x1="337.42" y1="270.70" x2="340.02" y2="270.70" stroke="#ee3f96" stroke-width="1.0" />
<line x1="337.42" y1="277.76" x2="340.02" y2="277.76" stroke="#ee3f96" stroke-width="1.0" />
<line x1="354.50" y1="262.47" x2="354.50" y2="270.31" stroke="#ee3f96" stroke-width="1.0" />
<line x1="353.20" y1="262.47" x2="355.80" y2="262.47" stroke="#ee3f96" stroke-width="1.0" />
<line x1="353.20" y1="270.31" x2="355.80" y2="270.31" stroke="#ee3f96" stroke-width="1.0" />
<line x1="407.10" y1="255.61" x2="407.10" y2="263.84" stroke="#ee3f96" stroke-width="1.0" />
<line x1="405.80" y1="255.61" x2="408.40" y2="255.61" stroke="#ee3f96" stroke-width="1.0" />
<line x1="405.80" y1="263.84" x2="408.40" y2="263.84" stroke="#ee3f96" stroke-width="1.0" />
<line x1="459.70" y1="262.08" x2="459.70" y2="269.92" stroke="#ee3f96" stroke-width="1.0" />
<line x1="458.40" y1="262.08" x2="461.00" y2="262.08" stroke="#ee3f96" stroke-width="1.0" />
<line x1="458.40" y1="269.92" x2="461.00" y2="269.92" stroke="#ee3f96" stroke-width="1.0" />
<path d="M312.42,285.70 L315.12,290.40 L309.72,290.40 Z" fill="white" stroke="#ee3f96" stroke-width="1.0"/>
<path d="M317.68,285.70 L320.38,290.40 L314.98,290.40 Z" fill="white" stroke="#ee3f96" stroke-width="1.0"/>
<path d="M328.20,280.84 L330.90,285.54 L325.50,285.54 Z" fill="white" stroke="#ee3f96" stroke-width="1.0"/>
<path d="M338.72,271.43 L341.42,276.13 L336.02,276.13 Z" fill="white" stroke="#ee3f96" stroke-width="1.0"/>
<path d="M354.50,263.59 L357.20,268.29 L351.80,268.29 Z" fill="white" stroke="#ee3f96" stroke-width="1.0"/>
<path d="M407.10,256.93 L409.80,261.63 L404.40,261.63 Z" fill="white" stroke="#ee3f96" stroke-width="1.0"/>
<path d="M459.70,263.20 L462.40,267.90 L457.00,267.90 Z" fill="white" stroke="#ee3f96" stroke-width="1.0"/>
<line x1="366.10" y1="281.60" x2="385.80" y2="281.60" stroke="#4646ee" stroke-width="1.1" />
<circle cx="376.00" cy="281.60" r="2.5" fill="white" stroke="#4646ee" stroke-width="1.0"/>
<text x="388.90" y="285.00" font-size="9.0" fill="#222" text-anchor="start"  stroke="#222" stroke-width="0.2">D<tspan font-size="6" dy="2.2">s</tspan><tspan dy="-2.2">: 15 </tspan><tspan font-family="Liberation Serif">&#956;</tspan>m, SR: 1</text>
<line x1="366.10" y1="295.65" x2="385.80" y2="295.65" stroke="#4646ee" stroke-width="1.1" />
<path d="M376.00,292.85 L378.70,297.55 L373.30,297.55 Z" fill="white" stroke="#4646ee" stroke-width="1.0"/>
<text x="388.90" y="299.05" font-size="9.0" fill="#222" text-anchor="start"  stroke="#222" stroke-width="0.2">D<tspan font-size="6" dy="2.2">s</tspan><tspan dy="-2.2">: 15 </tspan><tspan font-family="Liberation Serif">&#956;</tspan>m, SR: 2</text>
<line x1="366.10" y1="309.70" x2="385.80" y2="309.70" stroke="#ee3f96" stroke-width="1.1" />
<circle cx="376.00" cy="309.70" r="2.5" fill="white" stroke="#ee3f96" stroke-width="1.0"/>
<text x="388.90" y="313.10" font-size="9.0" fill="#222" text-anchor="start"  stroke="#222" stroke-width="0.2">D<tspan font-size="6" dy="2.2">s</tspan><tspan dy="-2.2">: 20 </tspan><tspan font-family="Liberation Serif">&#956;</tspan>m, SR: 1</text>
<line x1="366.10" y1="323.75" x2="385.80" y2="323.75" stroke="#ee3f96" stroke-width="1.1" />
<path d="M376.00,320.95 L378.70,325.65 L373.30,325.65 Z" fill="white" stroke="#ee3f96" stroke-width="1.0"/>
<text x="388.90" y="327.15" font-size="9.0" fill="#222" text-anchor="start"  stroke="#222" stroke-width="0.2">D<tspan font-size="6" dy="2.2">s</tspan><tspan dy="-2.2">: 20 </tspan><tspan font-family="Liberation Serif">&#956;</tspan>m, SR: 2</text>
<rect x="301.90" y="196.80" width="172.10" height="137.90" fill="none" stroke="#1a1a1a" stroke-width="1.4"/>
<text x="3.50" y="391.00" font-size="22.5" fill="#111" text-anchor="start"  stroke="#111" stroke-width="0.2">e</text>
<text x="0" y="0" font-size="11.7" fill="#1a1a1a" stroke="#1a1a1a" stroke-width="0.2" text-anchor="middle" transform="translate(28.40,446.90) rotate(-90)" dy="0.35em">Adhesion strength (kPa)</text>
<line x1="58.80" y1="517.10" x2="61.80" y2="517.10" stroke="#1a1a1a" stroke-width="1.1" />
<text x="55.40" y="519.85" font-size="9.3" fill="#333333" text-anchor="end"  stroke="#333333" stroke-width="0.2">0</text>
<line x1="58.80" y1="477.70" x2="61.80" y2="477.70" stroke="#1a1a1a" stroke-width="1.1" />
<text x="55.40" y="480.45" font-size="9.3" fill="#333333" text-anchor="end"  stroke="#333333" stroke-width="0.2">100</text>
<line x1="58.80" y1="438.30" x2="61.80" y2="438.30" stroke="#1a1a1a" stroke-width="1.1" />
<text x="55.40" y="441.05" font-size="9.3" fill="#333333" text-anchor="end"  stroke="#333333" stroke-width="0.2">200</text>
<line x1="58.80" y1="398.90" x2="61.80" y2="398.90" stroke="#1a1a1a" stroke-width="1.1" />
<text x="55.40" y="401.65" font-size="9.3" fill="#333333" text-anchor="end"  stroke="#333333" stroke-width="0.2">300</text>
<line x1="58.80" y1="497.40" x2="60.60" y2="497.40" stroke="#1a1a1a" stroke-width="1.0" />
<line x1="58.80" y1="458.00" x2="60.60" y2="458.00" stroke="#1a1a1a" stroke-width="1.0" />
<line x1="58.80" y1="418.60" x2="60.60" y2="418.60" stroke="#1a1a1a" stroke-width="1.0" />
<defs><pattern id="hatch" patternUnits="userSpaceOnUse" width="2.8284" height="4" patternTransform="rotate(45)"><rect x="0" y="0" width="1.05" height="4" fill="white" fill-opacity="0.75"/></pattern></defs>
<rect x="63.3" y="419.4" width="15.2" height="97.80000000000007" fill="#ff1a1a"/>
<rect x="63.3" y="419.4" width="15.2" height="97.80000000000007" fill="url(#hatch)"/>
<rect x="63.3" y="419.4" width="15.2" height="97.80000000000007" fill="none" stroke="#151515" stroke-width="1.15"/>
<line x1="70.90" y1="415.00" x2="70.90" y2="424.30" stroke="#222" stroke-width="1.0" />
<line x1="68.70" y1="415.00" x2="73.10" y2="415.00" stroke="#222" stroke-width="1.0" />
<line x1="68.70" y1="424.30" x2="73.10" y2="424.30" stroke="#222" stroke-width="1.0" />
<text x="70.90" y="526.40" font-size="8.4" fill="#333333" text-anchor="middle"  stroke="#333333" stroke-width="0.2">Glass</text>
<rect x="87.8" y="429.6" width="15.2" height="87.60000000000002" fill="#1a1a1a"/>
<rect x="87.8" y="429.6" width="15.2" height="87.60000000000002" fill="url(#hatch)"/>
<rect x="87.8" y="429.6" width="15.2" height="87.60000000000002" fill="none" stroke="#151515" stroke-width="1.15"/>
<line x1="95.40" y1="426.00" x2="95.40" y2="433.00" stroke="#222" stroke-width="1.0" />
<line x1="93.20" y1="426.00" x2="97.60" y2="426.00" stroke="#222" stroke-width="1.0" />
<line x1="93.20" y1="433.00" x2="97.60" y2="433.00" stroke="#222" stroke-width="1.0" />
<text x="95.40" y="526.40" font-size="8.4" fill="#333333" text-anchor="middle"  stroke="#333333" stroke-width="0.2">Si</text>
<rect x="111.9" y="415.8" width="15.2" height="101.40000000000003" fill="#ffff22"/>
<rect x="111.9" y="415.8" width="15.2" height="101.40000000000003" fill="url(#hatch)"/>
<rect x="111.9" y="415.8" width="15.2" height="101.40000000000003" fill="none" stroke="#151515" stroke-width="1.15"/>
<line x1="119.50" y1="413.00" x2="119.50" y2="419.40" stroke="#222" stroke-width="1.0" />
<line x1="117.30" y1="413.00" x2="121.70" y2="413.00" stroke="#222" stroke-width="1.0" />
<line x1="117.30" y1="419.40" x2="121.70" y2="419.40" stroke="#222" stroke-width="1.0" />
<text x="119.50" y="526.40" font-size="8.4" fill="#333333" text-anchor="middle"  stroke="#333333" stroke-width="0.2">Au</text>
<rect x="136.3" y="416.3" width="15.2" height="100.90000000000003" fill="#bfbfbf"/>
<rect x="136.3" y="416.3" width="15.2" height="100.90000000000003" fill="url(#hatch)"/>
<rect x="136.3" y="416.3" width="15.2" height="100.90000000000003" fill="none" stroke="#151515" stroke-width="1.15"/>
<line x1="143.90" y1="411.50" x2="143.90" y2="420.60" stroke="#222" stroke-width="1.0" />
<line x1="141.70" y1="411.50" x2="146.10" y2="411.50" stroke="#222" stroke-width="1.0" />
<line x1="141.70" y1="420.60" x2="146.10" y2="420.60" stroke="#222" stroke-width="1.0" />
<text x="143.90" y="526.40" font-size="8.4" fill="#333333" text-anchor="middle"  stroke="#333333" stroke-width="0.2">Ag</text>
<rect x="161.2" y="408.1" width="15.2" height="109.10000000000002" fill="#1a7470"/>
<rect x="161.2" y="408.1" width="15.2" height="109.10000000000002" fill="url(#hatch)"/>
<rect x="161.2" y="408.1" width="15.2" height="109.10000000000002" fill="none" stroke="#151515" stroke-width="1.15"/>
<line x1="168.80" y1="404.00" x2="168.80" y2="412.20" stroke="#222" stroke-width="1.0" />
<line x1="166.60" y1="404.00" x2="171.00" y2="404.00" stroke="#222" stroke-width="1.0" />
<line x1="166.60" y1="412.20" x2="171.00" y2="412.20" stroke="#222" stroke-width="1.0" />
<text x="168.80" y="526.40" font-size="8.4" fill="#333333" text-anchor="middle"  stroke="#333333" stroke-width="0.2">Al</text>
<rect x="185.7" y="441.3" width="15.2" height="75.90000000000003" fill="#ff7e1c"/>
<rect x="185.7" y="441.3" width="15.2" height="75.90000000000003" fill="url(#hatch)"/>
<rect x="185.7" y="441.3" width="15.2" height="75.90000000000003" fill="none" stroke="#151515" stroke-width="1.15"/>
<line x1="193.30" y1="434.10" x2="193.30" y2="448.40" stroke="#222" stroke-width="1.0" />
<line x1="191.10" y1="434.10" x2="195.50" y2="434.10" stroke="#222" stroke-width="1.0" />
<line x1="191.10" y1="448.40" x2="195.50" y2="448.40" stroke="#222" stroke-width="1.0" />
<text x="193.30" y="526.40" font-size="8.4" fill="#333333" text-anchor="middle"  stroke="#333333" stroke-width="0.2">Cu</text>
<rect x="210.0" y="439.3" width="15.2" height="77.90000000000003" fill="#1a1aff"/>
<rect x="210.0" y="439.3" width="15.2" height="77.90000000000003" fill="url(#hatch)"/>
<rect x="210.0" y="439.3" width="15.2" height="77.90000000000003" fill="none" stroke="#151515" stroke-width="1.15"/>
<line x1="217.60" y1="436.50" x2="217.60" y2="441.80" stroke="#222" stroke-width="1.0" />
<line x1="215.40" y1="436.50" x2="219.80" y2="436.50" stroke="#222" stroke-width="1.0" />
<line x1="215.40" y1="441.80" x2="219.80" y2="441.80" stroke="#222" stroke-width="1.0" />
<text x="217.60" y="526.40" font-size="8.4" fill="#333333" text-anchor="middle"  stroke="#333333" stroke-width="0.2">ITO</text>
<text x="144.20" y="545.30" font-size="11.5" fill="#1a1a1a" text-anchor="middle"  stroke="#1a1a1a" stroke-width="0.2">Substrate</text>
<rect x="58.80" y="379.00" width="171.80" height="138.20" fill="none" stroke="#1a1a1a" stroke-width="1.4"/>
<text x="254.80" y="390.00" font-size="22.5" fill="#111" text-anchor="start"  stroke="#111" stroke-width="0.2">f</text>
<text x="0" y="0" font-size="11.7" fill="#1a1a1a" stroke="#1a1a1a" stroke-width="0.2" text-anchor="middle" transform="translate(272.70,447.20) rotate(-90)" dy="0.35em">Adhesion strength (kPa)</text>
<line x1="302.50" y1="497.40" x2="305.50" y2="497.40" stroke="#1a1a1a" stroke-width="1.1" />
<text x="299.10" y="500.15" font-size="9.3" fill="#333333" text-anchor="end"  stroke="#333333" stroke-width="0.2">0</text>
<line x1="302.50" y1="458.00" x2="305.50" y2="458.00" stroke="#1a1a1a" stroke-width="1.1" />
<text x="299.10" y="460.75" font-size="9.3" fill="#333333" text-anchor="end"  stroke="#333333" stroke-width="0.2">100</text>
<line x1="302.50" y1="418.60" x2="305.50" y2="418.60" stroke="#1a1a1a" stroke-width="1.1" />
<text x="299.10" y="421.35" font-size="9.3" fill="#333333" text-anchor="end"  stroke="#333333" stroke-width="0.2">200</text>
<line x1="302.50" y1="379.20" x2="305.50" y2="379.20" stroke="#1a1a1a" stroke-width="1.1" />
<text x="299.10" y="381.95" font-size="9.3" fill="#333333" text-anchor="end"  stroke="#333333" stroke-width="0.2">300</text>
<line x1="302.50" y1="517.10" x2="304.30" y2="517.10" stroke="#1a1a1a" stroke-width="1.0" />
<line x1="302.50" y1="477.70" x2="304.30" y2="477.70" stroke="#1a1a1a" stroke-width="1.0" />
<line x1="302.50" y1="438.30" x2="304.30" y2="438.30" stroke="#1a1a1a" stroke-width="1.0" />
<line x1="302.50" y1="398.90" x2="304.30" y2="398.90" stroke="#1a1a1a" stroke-width="1.0" />
<line x1="302.50" y1="516.60" x2="302.50" y2="513.60" stroke="#1a1a1a" stroke-width="1.1" />
<text x="302.50" y="527.50" font-size="9.3" fill="#333333" text-anchor="middle"  stroke="#333333" stroke-width="0.2">0</text>
<line x1="336.72" y1="516.60" x2="336.72" y2="513.60" stroke="#1a1a1a" stroke-width="1.1" />
<text x="336.72" y="527.50" font-size="9.3" fill="#333333" text-anchor="middle"  stroke="#333333" stroke-width="0.2">200</text>
<line x1="370.94" y1="516.60" x2="370.94" y2="513.60" stroke="#1a1a1a" stroke-width="1.1" />
<text x="370.94" y="527.50" font-size="9.3" fill="#333333" text-anchor="middle"  stroke="#333333" stroke-width="0.2">400</text>
<line x1="405.16" y1="516.60" x2="405.16" y2="513.60" stroke="#1a1a1a" stroke-width="1.1" />
<text x="405.16" y="527.50" font-size="9.3" fill="#333333" text-anchor="middle"  stroke="#333333" stroke-width="0.2">600</text>
<line x1="439.38" y1="516.60" x2="439.38" y2="513.60" stroke="#1a1a1a" stroke-width="1.1" />
<text x="439.38" y="527.50" font-size="9.3" fill="#333333" text-anchor="middle"  stroke="#333333" stroke-width="0.2">800</text>
<line x1="473.60" y1="516.60" x2="473.60" y2="513.60" stroke="#1a1a1a" stroke-width="1.1" />
<text x="473.60" y="527.50" font-size="9.3" fill="#333333" text-anchor="middle"  stroke="#333333" stroke-width="0.2">1000</text>
<line x1="319.61" y1="516.60" x2="319.61" y2="514.80" stroke="#1a1a1a" stroke-width="1.0" />
<line x1="353.83" y1="516.60" x2="353.83" y2="514.80" stroke="#1a1a1a" stroke-width="1.0" />
<line x1="388.05" y1="516.60" x2="388.05" y2="514.80" stroke="#1a1a1a" stroke-width="1.0" />
<line x1="422.27" y1="516.60" x2="422.27" y2="514.80" stroke="#1a1a1a" stroke-width="1.0" />
<line x1="456.49" y1="516.60" x2="456.49" y2="514.80" stroke="#1a1a1a" stroke-width="1.0" />
<text x="387.70" y="540.90" font-size="11.5" fill="#1a1a1a" text-anchor="middle"  stroke="#1a1a1a" stroke-width="0.2">Cycle</text>
<path d="M303.5,400.1a0.8,0.8 0 1,0 -1.6,0a0.8,0.8 0 1,0 1.6,0M303.6,397.2a0.8,0.8 0 1,0 -1.6,0a0.8,0.8 0 1,0 1.6,0M303.8,400.0a0.8,0.8 0 1,0 -1.6,0a0.8,0.8 0 1,0 1.6,0M304.0,400.3a0.8,0.8 0 1,0 -1.6,0a0.8,0.8 0 1,0 1.6,0M304.2,402.6a0.8,0.8 0 1,0 -1.6,0a0.8,0.8 0 1,0 1.6,0M304.3,399.9a0.8,0.8 0 1,0 -1.6,0a0.8,0.8 0 1,0 1.6,0M304.5,394.9a0.8,0.8 0 1,0 -1.6,0a0.8,0.8 0 1,0 1.6,0M304.7,397.5a0.8,0.8 0 1,0 -1.6,0a0.8,0.8 0 1,0 1.6,0M304.8,395.2a0.8,0.8 0 1,0 -1.6,0a0.8,0.8 0 1,0 1.6,0M305.0,398.2a0.8,0.8 0 1,0 -1.6,0a0.8,0.8 0 1,0 1.6,0M305.2,397.6a0.8,0.8 0 1,0 -1.6,0a0.8,0.8 0 1,0 1.6,0M305.4,398.4a0.8,0.8 0 1,0 -1.6,0a0.8,0.8 0 1,0 1.6,0M305.5,405.4a0.8,0.8 0 1,0 -1.6,0a0.8,0.8 0 1,0 1.6,0M305.7,395.9a0.8,0.8 0 1,0 -1.6,0a0.8,0.8 0 1,0 1.6,0M305.9,397.2a0.8,0.8 0 1,0 -1.6,0a0.8,0.8 0 1,0 1.6,0M306.0,397.2a0.8,0.8 0 1,0 -1.6,0a0.8,0.8 0 1,0 1.6,0M306.2,405.5a0.8,0.8 0 1,0 -1.6,0a0.8,0.8 0 1,0 1.6,0M306.4,405.7a0.8,0.8 0 1,0 -1.6,0a0.8,0.8 0 1,0 1.6,0M306.6,402.5a0.8,0.8 0 1,0 -1.6,0a0.8,0.8 0 1,0 1.6,0M306.7,400.9a0.8,0.8 0 1,0 -1.6,0a0.8,0.8 0 1,0 1.6,0M306.9,397.9a0.8,0.8 0 1,0 -1.6,0a0.8,0.8 0 1,0 1.6,0M307.1,399.3a0.8,0.8 0 1,0 -1.6,0a0.8,0.8 0 1,0 1.6,0M307.2,397.1a0.8,0.8 0 1,0 -1.6,0a0.8,0.8 0 1,0 1.6,0M307.4,401.5a0.8,0.8 0 1,0 -1.6,0a0.8,0.8 0 1,0 1.6,0M307.6,397.9a0.8,0.8 0 1,0 -1.6,0a0.8,0.8 0 1,0 1.6,0M307.7,397.6a0.8,0.8 0 1,0 -1.6,0a0.8,0.8 0 1,0 1.6,0M307.9,401.6a0.8,0.8 0 1,0 -1.6,0a0.8,0.8 0 1,0 1.6,0M308.1,392.6a0.8,0.8 0 1,0 -1.6,0a0.8,0.8 0 1,0 1.6,0M308.3,397.0a0.8,0.8 0 1,0 -1.6,0a0.8,0.8 0 1,0 1.6,0M308.4,394.6a0.8,0.8 0 1,0 -1.6,0a0.8,0.8 0 1,0 1.6,0M308.6,401.4a0.8,0.8 0 1,0 -1.6,0a0.8,0.8 0 1,0 1.6,0M308.8,401.9a0.8,0.8 0 1,0 -1.6,0a0.8,0.8 0 1,0 1.6,0M308.9,400.4a0.8,0.8 0 1,0 -1.6,0a0.8,0.8 0 1,0 1.6,0M309.1,399.5a0.8,0.8 0 1,0 -1.6,0a0.8,0.8 0 1,0 1.6,0M309.3,396.7a0.8,0.8 0 1,0 -1.6,0a0.8,0.8 0 1,0 1.6,0M309.5,398.2a0.8,0.8 0 1,0 -1.6,0a0.8,0.8 0 1,0 1.6,0M309.6,400.8a0.8,0.8 0 1,0 -1.6,0a0.8,0.8 0 1,0 1.6,0M309.8,402.7a0.8,0.8 0 1,0 -1.6,0a0.8,0.8 0 1,0 1.6,0M310.0,401.1a0.8,0.8 0 1,0 -1.6,0a0.8,0.8 0 1,0 1.6,0M310.1,394.5a0.8,0.8 0 1,0 -1.6,0a0.8,0.8 0 1,0 1.6,0M310.3,402.2a0.8,0.8 0 1,0 -1.6,0a0.8,0.8 0 1,0 1.6,0M310.5,398.2a0.8,0.8 0 1,0 -1.6,0a0.8,0.8 0 1,0 1.6,0M310.7,397.5a0.8,0.8 0 1,0 -1.6,0a0.8,0.8 0 1,0 1.6,0M310.8,404.7a0.8,0.8 0 1,0 -1.6,0a0.8,0.8 0 1,0 1.6,0M311.0,398.9a0.8,0.8 0 1,0 -1.6,0a0.8,0.8 0 1,0 1.6,0M311.2,394.2a0.8,0.8 0 1,0 -1.6,0a0.8,0.8 0 1,0 1.6,0M311.3,406.7a0.8,0.8 0 1,0 -1.6,0a0.8,0.8 0 1,0 1.6,0M311.5,400.3a0.8,0.8 0 1,0 -1.6,0a0.8,0.8 0 1,0 1.6,0M311.7,399.5a0.8,0.8 0 1,0 -1.6,0a0.8,0.8 0 1,0 1.6,0M311.9,402.2a0.8,0.8 0 1,0 -1.6,0a0.8,0.8 0 1,0 1.6,0M312.0,397.2a0.8,0.8 0 1,0 -1.6,0a0.8,0.8 0 1,0 1.6,0M312.2,399.3a0.8,0.8 0 1,0 -1.6,0a0.8,0.8 0 1,0 1.6,0M312.4,404.6a0.8,0.8 0 1,0 -1.6,0a0.8,0.8 0 1,0 1.6,0M312.5,396.0a0.8,0.8 0 1,0 -1.6,0a0.8,0.8 0 1,0 1.6,0M312.7,396.6a0.8,0.8 0 1,0 -1.6,0a0.8,0.8 0 1,0 1.6,0M312.9,395.5a0.8,0.8 0 1,0 -1.6,0a0.8,0.8 0 1,0 1.6,0M313.1,393.6a0.8,0.8 0 1,0 -1.6,0a0.8,0.8 0 1,0 1.6,0M313.2,397.7a0.8,0.8 0 1,0 -1.6,0a0.8,0.8 0 1,0 1.6,0M313.4,398.6a0.8,0.8 0 1,0 -1.6,0a0.8,0.8 0 1,0 1.6,0M313.6,404.0a0.8,0.8 0 1,0 -1.6,0a0.8,0.8 0 1,0 1.6,0M313.7,396.8a0.8,0.8 0 1,0 -1.6,0a0.8,0.8 0 1,0 1.6,0M313.9,401.4a0.8,0.8 0 1,0 -1.6,0a0.8,0.8 0 1,0 1.6,0M314.1,400.8a0.8,0.8 0 1,0 -1.6,0a0.8,0.8 0 1,0 1.6,0M314.3,403.9a0.8,0.8 0 1,0 -1.6,0a0.8,0.8 0 1,0 1.6,0M314.4,402.8a0.8,0.8 0 1,0 -1.6,0a0.8,0.8 0 1,0 1.6,0M314.6,401.1a0.8,0.8 0 1,0 -1.6,0a0.8,0.8 0 1,0 1.6,0M314.8,394.2a0.8,0.8 0 1,0 -1.6,0a0.8,0.8 0 1,0 1.6,0M314.9,406.8a0.8,0.8 0 1,0 -1.6,0a0.8,0.8 0 1,0 1.6,0M315.1,404.6a0.8,0.8 0 1,0 -1.6,0a0.8,0.8 0 1,0 1.6,0M315.3,398.2a0.8,0.8 0 1,0 -1.6,0a0.8,0.8 0 1,0 1.6,0M315.4,393.6a0.8,0.8 0 1,0 -1.6,0a0.8,0.8 0 1,0 1.6,0M315.6,396.9a0.8,0.8 0 1,0 -1.6,0a0.8,0.8 0 1,0 1.6,0M315.8,406.3a0.8,0.8 0 1,0 -1.6,0a0.8,0.8 0 1,0 1.6,0M316.0,408.6a0.8,0.8 0 1,0 -1.6,0a0.8,0.8 0 1,0 1.6,0M316.1,397.7a0.8,0.8 0 1,0 -1.6,0a0.8,0.8 0 1,0 1.6,0M316.3,401.9a0.8,0.8 0 1,0 -1.6,0a0.8,0.8 0 1,0 1.6,0M316.5,403.3a0.8,0.8 0 1,0 -1.6,0a0.8,0.8 0 1,0 1.6,0M316.6,395.4a0.8,0.8 0 1,0 -1.6,0a0.8,0.8 0 1,0 1.6,0M316.8,394.9a0.8,0.8 0 1,0 -1.6,0a0.8,0.8 0 1,0 1.6,0M317.0,398.5a0.8,0.8 0 1,0 -1.6,0a0.8,0.8 0 1,0 1.6,0M317.2,398.2a0.8,0.8 0 1,0 -1.6,0a0.8,0.8 0 1,0 1.6,0M317.3,397.5a0.8,0.8 0 1,0 -1.6,0a0.8,0.8 0 1,0 1.6,0M317.5,393.1a0.8,0.8 0 1,0 -1.6,0a0.8,0.8 0 1,0 1.6,0M317.7,396.8a0.8,0.8 0 1,0 -1.6,0a0.8,0.8 0 1,0 1.6,0M317.8,397.1a0.8,0.8 0 1,0 -1.6,0a0.8,0.8 0 1,0 1.6,0M318.0,397.0a0.8,0.8 0 1,0 -1.6,0a0.8,0.8 0 1,0 1.6,0M318.2,405.0a0.8,0.8 0 1,0 -1.6,0a0.8,0.8 0 1,0 1.6,0M318.4,394.2a0.8,0.8 0 1,0 -1.6,0a0.8,0.8 0 1,0 1.6,0M318.5,395.5a0.8,0.8 0 1,0 -1.6,0a0.8,0.8 0 1,0 1.6,0M318.7,397.1a0.8,0.8 0 1,0 -1.6,0a0.8,0.8 0 1,0 1.6,0M318.9,406.6a0.8,0.8 0 1,0 -1.6,0a0.8,0.8 0 1,0 1.6,0M319.0,401.5a0.8,0.8 0 1,0 -1.6,0a0.8,0.8 0 1,0 1.6,0M319.2,395.9a0.8,0.8 0 1,0 -1.6,0a0.8,0.8 0 1,0 1.6,0M319.4,405.9a0.8,0.8 0 1,0 -1.6,0a0.8,0.8 0 1,0 1.6,0M319.6,399.8a0.8,0.8 0 1,0 -1.6,0a0.8,0.8 0 1,0 1.6,0M319.7,395.2a0.8,0.8 0 1,0 -1.6,0a0.8,0.8 0 1,0 1.6,0M319.9,404.1a0.8,0.8 0 1,0 -1.6,0a0.8,0.8 0 1,0 1.6,0M320.1,393.0a0.8,0.8 0 1,0 -1.6,0a0.8,0.8 0 1,0 1.6,0M320.2,397.0a0.8,0.8 0 1,0 -1.6,0a0.8,0.8 0 1,0 1.6,0M320.4,399.7a0.8,0.8 0 1,0 -1.6,0a0.8,0.8 0 1,0 1.6,0M320.6,397.9a0.8,0.8 0 1,0 -1.6,0a0.8,0.8 0 1,0 1.6,0M320.8,396.6a0.8,0.8 0 1,0 -1.6,0a0.8,0.8 0 1,0 1.6,0M320.9,398.6a0.8,0.8 0 1,0 -1.6,0a0.8,0.8 0 1,0 1.6,0M321.1,394.8a0.8,0.8 0 1,0 -1.6,0a0.8,0.8 0 1,0 1.6,0M321.3,401.6a0.8,0.8 0 1,0 -1.6,0a0.8,0.8 0 1,0 1.6,0M321.4,400.7a0.8,0.8 0 1,0 -1.6,0a0.8,0.8 0 1,0 1.6,0M321.6,395.2a0.8,0.8 0 1,0 -1.6,0a0.8,0.8 0 1,0 1.6,0M321.8,399.0a0.8,0.8 0 1,0 -1.6,0a0.8,0.8 0 1,0 1.6,0M321.9,402.4a0.8,0.8 0 1,0 -1.6,0a0.8,0.8 0 1,0 1.6,0M322.1,395.5a0.8,0.8 0 1,0 -1.6,0a0.8,0.8 0 1,0 1.6,0M322.3,393.6a0.8,0.8 0 1,0 -1.6,0a0.8,0.8 0 1,0 1.6,0M322.5,400.8a0.8,0.8 0 1,0 -1.6,0a0.8,0.8 0 1,0 1.6,0M322.6,404.3a0.8,0.8 0 1,0 -1.6,0a0.8,0.8 0 1,0 1.6,0M322.8,399.6a0.8,0.8 0 1,0 -1.6,0a0.8,0.8 0 1,0 1.6,0M323.0,399.7a0.8,0.8 0 1,0 -1.6,0a0.8,0.8 0 1,0 1.6,0M323.1,400.2a0.8,0.8 0 1,0 -1.6,0a0.8,0.8 0 1,0 1.6,0M323.3,393.8a0.8,0.8 0 1,0 -1.6,0a0.8,0.8 0 1,0 1.6,0M323.5,403.0a0.8,0.8 0 1,0 -1.6,0a0.8,0.8 0 1,0 1.6,0M323.7,394.3a0.8,0.8 0 1,0 -1.6,0a0.8,0.8 0 1,0 1.6,0M323.8,403.9a0.8,0.8 0 1,0 -1.6,0a0.8,0.8 0 1,0 1.6,0M324.0,402.1a0.8,0.8 0 1,0 -1.6,0a0.8,0.8 0 1,0 1.6,0M324.2,396.7a0.8,0.8 0 1,0 -1.6,0a0.8,0.8 0 1,0 1.6,0M324.3,394.8a0.8,0.8 0 1,0 -1.6,0a0.8,0.8 0 1,0 1.6,0M324.5,395.8a0.8,0.8 0 1,0 -1.6,0a0.8,0.8 0 1,0 1.6,0M324.7,397.8a0.8,0.8 0 1,0 -1.6,0a0.8,0.8 0 1,0 1.6,0M324.9,398.6a0.8,0.8 0 1,0 -1.6,0a0.8,0.8 0 1,0 1.6,0M325.0,398.5a0.8,0.8 0 1,0 -1.6,0a0.8,0.8 0 1,0 1.6,0M325.2,396.9a0.8,0.8 0 1,0 -1.6,0a0.8,0.8 0 1,0 1.6,0M325.4,399.8a0.8,0.8 0 1,0 -1.6,0a0.8,0.8 0 1,0 1.6,0M325.5,398.0a0.8,0.8 0 1,0 -1.6,0a0.8,0.8 0 1,0 1.6,0M325.7,396.9a0.8,0.8 0 1,0 -1.6,0a0.8,0.8 0 1,0 1.6,0M325.9,399.1a0.8,0.8 0 1,0 -1.6,0a0.8,0.8 0 1,0 1.6,0M326.1,396.2a0.8,0.8 0 1,0 -1.6,0a0.8,0.8 0 1,0 1.6,0M326.2,397.0a0.8,0.8 0 1,0 -1.6,0a0.8,0.8 0 1,0 1.6,0M326.4,391.5a0.8,0.8 0 1,0 -1.6,0a0.8,0.8 0 1,0 1.6,0M326.6,397.9a0.8,0.8 0 1,0 -1.6,0a0.8,0.8 0 1,0 1.6,0M326.7,400.7a0.8,0.8 0 1,0 -1.6,0a0.8,0.8 0 1,0 1.6,0M326.9,400.5a0.8,0.8 0 1,0 -1.6,0a0.8,0.8 0 1,0 1.6,0M327.1,399.1a0.8,0.8 0 1,0 -1.6,0a0.8,0.8 0 1,0 1.6,0M327.3,395.6a0.8,0.8 0 1,0 -1.6,0a0.8,0.8 0 1,0 1.6,0M327.4,400.4a0.8,0.8 0 1,0 -1.6,0a0.8,0.8 0 1,0 1.6,0M327.6,397.6a0.8,0.8 0 1,0 -1.6,0a0.8,0.8 0 1,0 1.6,0M327.8,392.1a0.8,0.8 0 1,0 -1.6,0a0.8,0.8 0 1,0 1.6,0M327.9,408.8a0.8,0.8 0 1,0 -1.6,0a0.8,0.8 0 1,0 1.6,0M328.1,403.3a0.8,0.8 0 1,0 -1.6,0a0.8,0.8 0 1,0 1.6,0M328.3,398.2a0.8,0.8 0 1,0 -1.6,0a0.8,0.8 0 1,0 1.6,0M328.5,397.6a0.8,0.8 0 1,0 -1.6,0a0.8,0.8 0 1,0 1.6,0M328.6,398.2a0.8,0.8 0 1,0 -1.6,0a0.8,0.8 0 1,0 1.6,0M328.8,400.7a0.8,0.8 0 1,0 -1.6,0a0.8,0.8 0 1,0 1.6,0M329.0,396.6a0.8,0.8 0 1,0 -1.6,0a0.8,0.8 0 1,0 1.6,0M329.1,398.0a0.8,0.8 0 1,0 -1.6,0a0.8,0.8 0 1,0 1.6,0M329.3,401.1a0.8,0.8 0 1,0 -1.6,0a0.8,0.8 0 1,0 1.6,0M329.5,389.9a0.8,0.8 0 1,0 -1.6,0a0.8,0.8 0 1,0 1.6,0M329.6,397.8a0.8,0.8 0 1,0 -1.6,0a0.8,0.8 0 1,0 1.6,0M329.8,401.2a0.8,0.8 0 1,0 -1.6,0a0.8,0.8 0 1,0 1.6,0M330.0,399.5a0.8,0.8 0 1,0 -1.6,0a0.8,0.8 0 1,0 1.6,0M330.2,400.0a0.8,0.8 0 1,0 -1.6,0a0.8,0.8 0 1,0 1.6,0M330.3,399.3a0.8,0.8 0 1,0 -1.6,0a0.8,0.8 0 1,0 1.6,0M330.5,409.4a0.8,0.8 0 1,0 -1.6,0a0.8,0.8 0 1,0 1.6,0M330.7,400.9a0.8,0.8 0 1,0 -1.6,0a0.8,0.8 0 1,0 1.6,0M330.8,395.3a0.8,0.8 0 1,0 -1.6,0a0.8,0.8 0 1,0 1.6,0M331.0,403.5a0.8,0.8 0 1,0 -1.6,0a0.8,0.8 0 1,0 1.6,0M331.2,399.3a0.8,0.8 0 1,0 -1.6,0a0.8,0.8 0 1,0 1.6,0M331.4,395.5a0.8,0.8 0 1,0 -1.6,0a0.8,0.8 0 1,0 1.6,0M331.5,395.9a0.8,0.8 0 1,0 -1.6,0a0.8,0.8 0 1,0 1.6,0M331.7,393.5a0.8,0.8 0 1,0 -1.6,0a0.8,0.8 0 1,0 1.6,0M331.9,405.5a0.8,0.8 0 1,0 -1.6,0a0.8,0.8 0 1,0 1.6,0M332.0,400.4a0.8,0.8 0 1,0 -1.6,0a0.8,0.8 0 1,0 1.6,0M332.2,400.4a0.8,0.8 0 1,0 -1.6,0a0.8,0.8 0 1,0 1.6,0M332.4,396.7a0.8,0.8 0 1,0 -1.6,0a0.8,0.8 0 1,0 1.6,0M332.6,395.0a0.8,0.8 0 1,0 -1.6,0a0.8,0.8 0 1,0 1.6,0M332.7,409.2a0.8,0.8 0 1,0 -1.6,0a0.8,0.8 0 1,0 1.6,0M332.9,395.0a0.8,0.8 0 1,0 -1.6,0a0.8,0.8 0 1,0 1.6,0M333.1,404.6a0.8,0.8 0 1,0 -1.6,0a0.8,0.8 0 1,0 1.6,0M333.2,396.5a0.8,0.8 0 1,0 -1.6,0a0.8,0.8 0 1,0 1.6,0M333.4,404.7a0.8,0.8 0 1,0 -1.6,0a0.8,0.8 0 1,0 1.6,0M333.6,398.4a0.8,0.8 0 1,0 -1.6,0a0.8,0.8 0 1,0 1.6,0M333.8,394.6a0.8,0.8 0 1,0 -1.6,0a0.8,0.8 0 1,0 1.6,0M333.9,399.7a0.8,0.8 0 1,0 -1.6,0a0.8,0.8 0 1,0 1.6,0M334.1,398.4a0.8,0.8 0 1,0 -1.6,0a0.8,0.8 0 1,0 1.6,0M334.3,396.1a0.8,0.8 0 1,0 -1.6,0a0.8,0.8 0 1,0 1.6,0M334.4,398.6a0.8,0.8 0 1,0 -1.6,0a0.8,0.8 0 1,0 1.6,0M334.6,399.4a0.8,0.8 0 1,0 -1.6,0a0.8,0.8 0 1,0 1.6,0M334.8,393.3a0.8,0.8 0 1,0 -1.6,0a0.8,0.8 0 1,0 1.6,0M335.0,395.1a0.8,0.8 0 1,0 -1.6,0a0.8,0.8 0 1,0 1.6,0M335.1,400.2a0.8,0.8 0 1,0 -1.6,0a0.8,0.8 0 1,0 1.6,0M335.3,388.7a0.8,0.8 0 1,0 -1.6,0a0.8,0.8 0 1,0 1.6,0M335.5,403.4a0.8,0.8 0 1,0 -1.6,0a0.8,0.8 0 1,0 1.6,0M335.6,395.6a0.8,0.8 0 1,0 -1.6,0a0.8,0.8 0 1,0 1.6,0M335.8,400.1a0.8,0.8 0 1,0 -1.6,0a0.8,0.8 0 1,0 1.6,0M336.0,398.6a0.8,0.8 0 1,0 -1.6,0a0.8,0.8 0 1,0 1.6,0M336.2,396.4a0.8,0.8 0 1,0 -1.6,0a0.8,0.8 0 1,0 1.6,0M336.3,398.3a0.8,0.8 0 1,0 -1.6,0a0.8,0.8 0 1,0 1.6,0M336.5,396.7a0.8,0.8 0 1,0 -1.6,0a0.8,0.8 0 1,0 1.6,0M336.7,404.9a0.8,0.8 0 1,0 -1.6,0a0.8,0.8 0 1,0 1.6,0M336.8,404.8a0.8,0.8 0 1,0 -1.6,0a0.8,0.8 0 1,0 1.6,0M337.0,396.8a0.8,0.8 0 1,0 -1.6,0a0.8,0.8 0 1,0 1.6,0M337.2,402.7a0.8,0.8 0 1,0 -1.6,0a0.8,0.8 0 1,0 1.6,0M337.3,403.0a0.8,0.8 0 1,0 -1.6,0a0.8,0.8 0 1,0 1.6,0M337.5,404.7a0.8,0.8 0 1,0 -1.6,0a0.8,0.8 0 1,0 1.6,0M337.7,394.3a0.8,0.8 0 1,0 -1.6,0a0.8,0.8 0 1,0 1.6,0M337.9,396.3a0.8,0.8 0 1,0 -1.6,0a0.8,0.8 0 1,0 1.6,0M338.0,393.5a0.8,0.8 0 1,0 -1.6,0a0.8,0.8 0 1,0 1.6,0M338.2,402.6a0.8,0.8 0 1,0 -1.6,0a0.8,0.8 0 1,0 1.6,0M338.4,399.1a0.8,0.8 0 1,0 -1.6,0a0.8,0.8 0 1,0 1.6,0M338.5,403.4a0.8,0.8 0 1,0 -1.6,0a0.8,0.8 0 1,0 1.6,0M338.7,396.2a0.8,0.8 0 1,0 -1.6,0a0.8,0.8 0 1,0 1.6,0M338.9,393.1a0.8,0.8 0 1,0 -1.6,0a0.8,0.8 0 1,0 1.6,0M339.1,402.5a0.8,0.8 0 1,0 -1.6,0a0.8,0.8 0 1,0 1.6,0M339.2,393.2a0.8,0.8 0 1,0 -1.6,0a0.8,0.8 0 1,0 1.6,0M339.4,395.4a0.8,0.8 0 1,0 -1.6,0a0.8,0.8 0 1,0 1.6,0M339.6,399.8a0.8,0.8 0 1,0 -1.6,0a0.8,0.8 0 1,0 1.6,0M339.7,406.6a0.8,0.8 0 1,0 -1.6,0a0.8,0.8 0 1,0 1.6,0M339.9,393.8a0.8,0.8 0 1,0 -1.6,0a0.8,0.8 0 1,0 1.6,0M340.1,399.5a0.8,0.8 0 1,0 -1.6,0a0.8,0.8 0 1,0 1.6,0M340.3,401.4a0.8,0.8 0 1,0 -1.6,0a0.8,0.8 0 1,0 1.6,0M340.4,397.6a0.8,0.8 0 1,0 -1.6,0a0.8,0.8 0 1,0 1.6,0M340.6,397.5a0.8,0.8 0 1,0 -1.6,0a0.8,0.8 0 1,0 1.6,0M340.8,393.4a0.8,0.8 0 1,0 -1.6,0a0.8,0.8 0 1,0 1.6,0M340.9,403.0a0.8,0.8 0 1,0 -1.6,0a0.8,0.8 0 1,0 1.6,0M341.1,394.8a0.8,0.8 0 1,0 -1.6,0a0.8,0.8 0 1,0 1.6,0M341.3,393.5a0.8,0.8 0 1,0 -1.6,0a0.8,0.8 0 1,0 1.6,0M341.5,393.6a0.8,0.8 0 1,0 -1.6,0a0.8,0.8 0 1,0 1.6,0M341.6,399.8a0.8,0.8 0 1,0 -1.6,0a0.8,0.8 0 1,0 1.6,0M341.8,401.9a0.8,0.8 0 1,0 -1.6,0a0.8,0.8 0 1,0 1.6,0M342.0,395.2a0.8,0.8 0 1,0 -1.6,0a0.8,0.8 0 1,0 1.6,0M342.1,398.7a0.8,0.8 0 1,0 -1.6,0a0.8,0.8 0 1,0 1.6,0M342.3,398.6a0.8,0.8 0 1,0 -1.6,0a0.8,0.8 0 1,0 1.6,0M342.5,393.7a0.8,0.8 0 1,0 -1.6,0a0.8,0.8 0 1,0 1.6,0M342.7,400.1a0.8,0.8 0 1,0 -1.6,0a0.8,0.8 0 1,0 1.6,0M342.8,407.8a0.8,0.8 0 1,0 -1.6,0a0.8,0.8 0 1,0 1.6,0M343.0,400.6a0.8,0.8 0 1,0 -1.6,0a0.8,0.8 0 1,0 1.6,0M343.2,406.1a0.8,0.8 0 1,0 -1.6,0a0.8,0.8 0 1,0 1.6,0M343.3,396.0a0.8,0.8 0 1,0 -1.6,0a0.8,0.8 0 1,0 1.6,0M343.5,397.9a0.8,0.8 0 1,0 -1.6,0a0.8,0.8 0 1,0 1.6,0M343.7,401.4a0.8,0.8 0 1,0 -1.6,0a0.8,0.8 0 1,0 1.6,0M343.9,399.1a0.8,0.8 0 1,0 -1.6,0a0.8,0.8 0 1,0 1.6,0M344.0,395.9a0.8,0.8 0 1,0 -1.6,0a0.8,0.8 0 1,0 1.6,0M344.2,398.8a0.8,0.8 0 1,0 -1.6,0a0.8,0.8 0 1,0 1.6,0M344.4,394.1a0.8,0.8 0 1,0 -1.6,0a0.8,0.8 0 1,0 1.6,0M344.5,399.3a0.8,0.8 0 1,0 -1.6,0a0.8,0.8 0 1,0 1.6,0M344.7,395.2a0.8,0.8 0 1,0 -1.6,0a0.8,0.8 0 1,0 1.6,0M344.9,393.5a0.8,0.8 0 1,0 -1.6,0a0.8,0.8 0 1,0 1.6,0M345.0,393.0a0.8,0.8 0 1,0 -1.6,0a0.8,0.8 0 1,0 1.6,0M345.2,401.6a0.8,0.8 0 1,0 -1.6,0a0.8,0.8 0 1,0 1.6,0M345.4,395.8a0.8,0.8 0 1,0 -1.6,0a0.8,0.8 0 1,0 1.6,0M345.6,406.2a0.8,0.8 0 1,0 -1.6,0a0.8,0.8 0 1,0 1.6,0M345.7,403.2a0.8,0.8 0 1,0 -1.6,0a0.8,0.8 0 1,0 1.6,0M345.9,406.5a0.8,0.8 0 1,0 -1.6,0a0.8,0.8 0 1,0 1.6,0M346.1,395.1a0.8,0.8 0 1,0 -1.6,0a0.8,0.8 0 1,0 1.6,0M346.2,403.8a0.8,0.8 0 1,0 -1.6,0a0.8,0.8 0 1,0 1.6,0M346.4,399.1a0.8,0.8 0 1,0 -1.6,0a0.8,0.8 0 1,0 1.6,0M346.6,399.8a0.8,0.8 0 1,0 -1.6,0a0.8,0.8 0 1,0 1.6,0M346.8,399.2a0.8,0.8 0 1,0 -1.6,0a0.8,0.8 0 1,0 1.6,0M346.9,401.3a0.8,0.8 0 1,0 -1.6,0a0.8,0.8 0 1,0 1.6,0M347.1,398.2a0.8,0.8 0 1,0 -1.6,0a0.8,0.8 0 1,0 1.6,0M347.3,392.3a0.8,0.8 0 1,0 -1.6,0a0.8,0.8 0 1,0 1.6,0M347.4,398.9a0.8,0.8 0 1,0 -1.6,0a0.8,0.8 0 1,0 1.6,0M347.6,397.1a0.8,0.8 0 1,0 -1.6,0a0.8,0.8 0 1,0 1.6,0M347.8,395.3a0.8,0.8 0 1,0 -1.6,0a0.8,0.8 0 1,0 1.6,0M348.0,399.8a0.8,0.8 0 1,0 -1.6,0a0.8,0.8 0 1,0 1.6,0M348.1,403.9a0.8,0.8 0 1,0 -1.6,0a0.8,0.8 0 1,0 1.6,0M348.3,401.2a0.8,0.8 0 1,0 -1.6,0a0.8,0.8 0 1,0 1.6,0M348.5,395.0a0.8,0.8 0 1,0 -1.6,0a0.8,0.8 0 1,0 1.6,0M348.6,405.3a0.8,0.8 0 1,0 -1.6,0a0.8,0.8 0 1,0 1.6,0M348.8,401.4a0.8,0.8 0 1,0 -1.6,0a0.8,0.8 0 1,0 1.6,0M349.0,395.3a0.8,0.8 0 1,0 -1.6,0a0.8,0.8 0 1,0 1.6,0M349.2,396.1a0.8,0.8 0 1,0 -1.6,0a0.8,0.8 0 1,0 1.6,0M349.3,399.1a0.8,0.8 0 1,0 -1.6,0a0.8,0.8 0 1,0 1.6,0M349.5,396.1a0.8,0.8 0 1,0 -1.6,0a0.8,0.8 0 1,0 1.6,0M349.7,398.5a0.8,0.8 0 1,0 -1.6,0a0.8,0.8 0 1,0 1.6,0M349.8,403.6a0.8,0.8 0 1,0 -1.6,0a0.8,0.8 0 1,0 1.6,0M350.0,405.0a0.8,0.8 0 1,0 -1.6,0a0.8,0.8 0 1,0 1.6,0M350.2,401.5a0.8,0.8 0 1,0 -1.6,0a0.8,0.8 0 1,0 1.6,0M350.4,395.6a0.8,0.8 0 1,0 -1.6,0a0.8,0.8 0 1,0 1.6,0M350.5,401.2a0.8,0.8 0 1,0 -1.6,0a0.8,0.8 0 1,0 1.6,0M350.7,402.5a0.8,0.8 0 1,0 -1.6,0a0.8,0.8 0 1,0 1.6,0M350.9,402.0a0.8,0.8 0 1,0 -1.6,0a0.8,0.8 0 1,0 1.6,0M351.0,404.9a0.8,0.8 0 1,0 -1.6,0a0.8,0.8 0 1,0 1.6,0M351.2,399.5a0.8,0.8 0 1,0 -1.6,0a0.8,0.8 0 1,0 1.6,0M351.4,403.6a0.8,0.8 0 1,0 -1.6,0a0.8,0.8 0 1,0 1.6,0M351.6,397.7a0.8,0.8 0 1,0 -1.6,0a0.8,0.8 0 1,0 1.6,0M351.7,408.0a0.8,0.8 0 1,0 -1.6,0a0.8,0.8 0 1,0 1.6,0M351.9,397.9a0.8,0.8 0 1,0 -1.6,0a0.8,0.8 0 1,0 1.6,0M352.1,401.5a0.8,0.8 0 1,0 -1.6,0a0.8,0.8 0 1,0 1.6,0M352.2,406.4a0.8,0.8 0 1,0 -1.6,0a0.8,0.8 0 1,0 1.6,0M352.4,396.4a0.8,0.8 0 1,0 -1.6,0a0.8,0.8 0 1,0 1.6,0M352.6,400.1a0.8,0.8 0 1,0 -1.6,0a0.8,0.8 0 1,0 1.6,0M352.7,407.5a0.8,0.8 0 1,0 -1.6,0a0.8,0.8 0 1,0 1.6,0M352.9,402.4a0.8,0.8 0 1,0 -1.6,0a0.8,0.8 0 1,0 1.6,0M353.1,398.0a0.8,0.8 0 1,0 -1.6,0a0.8,0.8 0 1,0 1.6,0M353.3,400.8a0.8,0.8 0 1,0 -1.6,0a0.8,0.8 0 1,0 1.6,0M353.4,396.1a0.8,0.8 0 1,0 -1.6,0a0.8,0.8 0 1,0 1.6,0M353.6,396.3a0.8,0.8 0 1,0 -1.6,0a0.8,0.8 0 1,0 1.6,0M353.8,396.6a0.8,0.8 0 1,0 -1.6,0a0.8,0.8 0 1,0 1.6,0M353.9,397.9a0.8,0.8 0 1,0 -1.6,0a0.8,0.8 0 1,0 1.6,0M354.1,394.1a0.8,0.8 0 1,0 -1.6,0a0.8,0.8 0 1,0 1.6,0M354.3,396.6a0.8,0.8 0 1,0 -1.6,0a0.8,0.8 0 1,0 1.6,0M354.5,397.4a0.8,0.8 0 1,0 -1.6,0a0.8,0.8 0 1,0 1.6,0M354.6,407.0a0.8,0.8 0 1,0 -1.6,0a0.8,0.8 0 1,0 1.6,0M354.8,395.7a0.8,0.8 0 1,0 -1.6,0a0.8,0.8 0 1,0 1.6,0M355.0,394.1a0.8,0.8 0 1,0 -1.6,0a0.8,0.8 0 1,0 1.6,0M355.1,400.2a0.8,0.8 0 1,0 -1.6,0a0.8,0.8 0 1,0 1.6,0M355.3,400.9a0.8,0.8 0 1,0 -1.6,0a0.8,0.8 0 1,0 1.6,0M355.5,391.8a0.8,0.8 0 1,0 -1.6,0a0.8,0.8 0 1,0 1.6,0M355.7,405.7a0.8,0.8 0 1,0 -1.6,0a0.8,0.8 0 1,0 1.6,0M355.8,397.3a0.8,0.8 0 1,0 -1.6,0a0.8,0.8 0 1,0 1.6,0M356.0,389.9a0.8,0.8 0 1,0 -1.6,0a0.8,0.8 0 1,0 1.6,0M356.2,402.6a0.8,0.8 0 1,0 -1.6,0a0.8,0.8 0 1,0 1.6,0M356.3,396.5a0.8,0.8 0 1,0 -1.6,0a0.8,0.8 0 1,0 1.6,0M356.5,392.0a0.8,0.8 0 1,0 -1.6,0a0.8,0.8 0 1,0 1.6,0M356.7,399.6a0.8,0.8 0 1,0 -1.6,0a0.8,0.8 0 1,0 1.6,0M356.9,397.0a0.8,0.8 0 1,0 -1.6,0a0.8,0.8 0 1,0 1.6,0M357.0,395.7a0.8,0.8 0 1,0 -1.6,0a0.8,0.8 0 1,0 1.6,0M357.2,402.5a0.8,0.8 0 1,0 -1.6,0a0.8,0.8 0 1,0 1.6,0M357.4,399.4a0.8,0.8 0 1,0 -1.6,0a0.8,0.8 0 1,0 1.6,0M357.5,398.0a0.8,0.8 0 1,0 -1.6,0a0.8,0.8 0 1,0 1.6,0M357.7,396.0a0.8,0.8 0 1,0 -1.6,0a0.8,0.8 0 1,0 1.6,0M357.9,399.2a0.8,0.8 0 1,0 -1.6,0a0.8,0.8 0 1,0 1.6,0M358.1,399.8a0.8,0.8 0 1,0 -1.6,0a0.8,0.8 0 1,0 1.6,0M358.2,402.9a0.8,0.8 0 1,0 -1.6,0a0.8,0.8 0 1,0 1.6,0M358.4,400.5a0.8,0.8 0 1,0 -1.6,0a0.8,0.8 0 1,0 1.6,0M358.6,395.7a0.8,0.8 0 1,0 -1.6,0a0.8,0.8 0 1,0 1.6,0M358.7,398.7a0.8,0.8 0 1,0 -1.6,0a0.8,0.8 0 1,0 1.6,0M358.9,402.3a0.8,0.8 0 1,0 -1.6,0a0.8,0.8 0 1,0 1.6,0M359.1,402.3a0.8,0.8 0 1,0 -1.6,0a0.8,0.8 0 1,0 1.6,0M359.2,389.0a0.8,0.8 0 1,0 -1.6,0a0.8,0.8 0 1,0 1.6,0M359.4,394.8a0.8,0.8 0 1,0 -1.6,0a0.8,0.8 0 1,0 1.6,0M359.6,396.7a0.8,0.8 0 1,0 -1.6,0a0.8,0.8 0 1,0 1.6,0M359.8,408.9a0.8,0.8 0 1,0 -1.6,0a0.8,0.8 0 1,0 1.6,0M359.9,396.7a0.8,0.8 0 1,0 -1.6,0a0.8,0.8 0 1,0 1.6,0M360.1,397.3a0.8,0.8 0 1,0 -1.6,0a0.8,0.8 0 1,0 1.6,0M360.3,392.7a0.8,0.8 0 1,0 -1.6,0a0.8,0.8 0 1,0 1.6,0M360.4,397.5a0.8,0.8 0 1,0 -1.6,0a0.8,0.8 0 1,0 1.6,0M360.6,399.4a0.8,0.8 0 1,0 -1.6,0a0.8,0.8 0 1,0 1.6,0M360.8,397.1a0.8,0.8 0 1,0 -1.6,0a0.8,0.8 0 1,0 1.6,0M361.0,406.5a0.8,0.8 0 1,0 -1.6,0a0.8,0.8 0 1,0 1.6,0M361.1,395.2a0.8,0.8 0 1,0 -1.6,0a0.8,0.8 0 1,0 1.6,0M361.3,397.9a0.8,0.8 0 1,0 -1.6,0a0.8,0.8 0 1,0 1.6,0M361.5,401.8a0.8,0.8 0 1,0 -1.6,0a0.8,0.8 0 1,0 1.6,0M361.6,394.1a0.8,0.8 0 1,0 -1.6,0a0.8,0.8 0 1,0 1.6,0M361.8,392.3a0.8,0.8 0 1,0 -1.6,0a0.8,0.8 0 1,0 1.6,0M362.0,404.4a0.8,0.8 0 1,0 -1.6,0a0.8,0.8 0 1,0 1.6,0M362.2,401.6a0.8,0.8 0 1,0 -1.6,0a0.8,0.8 0 1,0 1.6,0M362.3,398.0a0.8,0.8 0 1,0 -1.6,0a0.8,0.8 0 1,0 1.6,0M362.5,398.4a0.8,0.8 0 1,0 -1.6,0a0.8,0.8 0 1,0 1.6,0M362.7,400.6a0.8,0.8 0 1,0 -1.6,0a0.8,0.8 0 1,0 1.6,0M362.8,402.8a0.8,0.8 0 1,0 -1.6,0a0.8,0.8 0 1,0 1.6,0M363.0,391.1a0.8,0.8 0 1,0 -1.6,0a0.8,0.8 0 1,0 1.6,0M363.2,395.2a0.8,0.8 0 1,0 -1.6,0a0.8,0.8 0 1,0 1.6,0M363.4,403.6a0.8,0.8 0 1,0 -1.6,0a0.8,0.8 0 1,0 1.6,0M363.5,404.2a0.8,0.8 0 1,0 -1.6,0a0.8,0.8 0 1,0 1.6,0M363.7,392.7a0.8,0.8 0 1,0 -1.6,0a0.8,0.8 0 1,0 1.6,0M363.9,395.4a0.8,0.8 0 1,0 -1.6,0a0.8,0.8 0 1,0 1.6,0M364.0,392.2a0.8,0.8 0 1,0 -1.6,0a0.8,0.8 0 1,0 1.6,0M364.2,396.0a0.8,0.8 0 1,0 -1.6,0a0.8,0.8 0 1,0 1.6,0M364.4,402.4a0.8,0.8 0 1,0 -1.6,0a0.8,0.8 0 1,0 1.6,0M364.6,398.1a0.8,0.8 0 1,0 -1.6,0a0.8,0.8 0 1,0 1.6,0M364.7,407.3a0.8,0.8 0 1,0 -1.6,0a0.8,0.8 0 1,0 1.6,0M364.9,401.9a0.8,0.8 0 1,0 -1.6,0a0.8,0.8 0 1,0 1.6,0M365.1,399.3a0.8,0.8 0 1,0 -1.6,0a0.8,0.8 0 1,0 1.6,0M365.2,397.1a0.8,0.8 0 1,0 -1.6,0a0.8,0.8 0 1,0 1.6,0M365.4,401.8a0.8,0.8 0 1,0 -1.6,0a0.8,0.8 0 1,0 1.6,0M365.6,399.6a0.8,0.8 0 1,0 -1.6,0a0.8,0.8 0 1,0 1.6,0M365.8,397.4a0.8,0.8 0 1,0 -1.6,0a0.8,0.8 0 1,0 1.6,0M365.9,397.7a0.8,0.8 0 1,0 -1.6,0a0.8,0.8 0 1,0 1.6,0M366.1,396.7a0.8,0.8 0 1,0 -1.6,0a0.8,0.8 0 1,0 1.6,0M366.3,398.3a0.8,0.8 0 1,0 -1.6,0a0.8,0.8 0 1,0 1.6,0M366.4,400.3a0.8,0.8 0 1,0 -1.6,0a0.8,0.8 0 1,0 1.6,0M366.6,396.1a0.8,0.8 0 1,0 -1.6,0a0.8,0.8 0 1,0 1.6,0M366.8,398.9a0.8,0.8 0 1,0 -1.6,0a0.8,0.8 0 1,0 1.6,0M366.9,402.2a0.8,0.8 0 1,0 -1.6,0a0.8,0.8 0 1,0 1.6,0M367.1,401.5a0.8,0.8 0 1,0 -1.6,0a0.8,0.8 0 1,0 1.6,0M367.3,399.1a0.8,0.8 0 1,0 -1.6,0a0.8,0.8 0 1,0 1.6,0M367.5,399.5a0.8,0.8 0 1,0 -1.6,0a0.8,0.8 0 1,0 1.6,0M367.6,398.5a0.8,0.8 0 1,0 -1.6,0a0.8,0.8 0 1,0 1.6,0M367.8,399.1a0.8,0.8 0 1,0 -1.6,0a0.8,0.8 0 1,0 1.6,0M368.0,398.4a0.8,0.8 0 1,0 -1.6,0a0.8,0.8 0 1,0 1.6,0M368.1,399.6a0.8,0.8 0 1,0 -1.6,0a0.8,0.8 0 1,0 1.6,0M368.3,403.9a0.8,0.8 0 1,0 -1.6,0a0.8,0.8 0 1,0 1.6,0M368.5,397.5a0.8,0.8 0 1,0 -1.6,0a0.8,0.8 0 1,0 1.6,0M368.7,395.1a0.8,0.8 0 1,0 -1.6,0a0.8,0.8 0 1,0 1.6,0M368.8,397.5a0.8,0.8 0 1,0 -1.6,0a0.8,0.8 0 1,0 1.6,0M369.0,399.8a0.8,0.8 0 1,0 -1.6,0a0.8,0.8 0 1,0 1.6,0M369.2,397.4a0.8,0.8 0 1,0 -1.6,0a0.8,0.8 0 1,0 1.6,0M369.3,402.7a0.8,0.8 0 1,0 -1.6,0a0.8,0.8 0 1,0 1.6,0M369.5,406.3a0.8,0.8 0 1,0 -1.6,0a0.8,0.8 0 1,0 1.6,0M369.7,398.9a0.8,0.8 0 1,0 -1.6,0a0.8,0.8 0 1,0 1.6,0M369.9,402.6a0.8,0.8 0 1,0 -1.6,0a0.8,0.8 0 1,0 1.6,0M370.0,396.3a0.8,0.8 0 1,0 -1.6,0a0.8,0.8 0 1,0 1.6,0M370.2,403.2a0.8,0.8 0 1,0 -1.6,0a0.8,0.8 0 1,0 1.6,0M370.4,409.0a0.8,0.8 0 1,0 -1.6,0a0.8,0.8 0 1,0 1.6,0M370.5,403.0a0.8,0.8 0 1,0 -1.6,0a0.8,0.8 0 1,0 1.6,0M370.7,393.1a0.8,0.8 0 1,0 -1.6,0a0.8,0.8 0 1,0 1.6,0M370.9,400.5a0.8,0.8 0 1,0 -1.6,0a0.8,0.8 0 1,0 1.6,0M371.1,404.3a0.8,0.8 0 1,0 -1.6,0a0.8,0.8 0 1,0 1.6,0M371.2,402.0a0.8,0.8 0 1,0 -1.6,0a0.8,0.8 0 1,0 1.6,0M371.4,397.1a0.8,0.8 0 1,0 -1.6,0a0.8,0.8 0 1,0 1.6,0M371.6,397.2a0.8,0.8 0 1,0 -1.6,0a0.8,0.8 0 1,0 1.6,0M371.7,398.4a0.8,0.8 0 1,0 -1.6,0a0.8,0.8 0 1,0 1.6,0M371.9,393.5a0.8,0.8 0 1,0 -1.6,0a0.8,0.8 0 1,0 1.6,0M372.1,396.4a0.8,0.8 0 1,0 -1.6,0a0.8,0.8 0 1,0 1.6,0M372.3,399.2a0.8,0.8 0 1,0 -1.6,0a0.8,0.8 0 1,0 1.6,0M372.4,396.8a0.8,0.8 0 1,0 -1.6,0a0.8,0.8 0 1,0 1.6,0M372.6,392.8a0.8,0.8 0 1,0 -1.6,0a0.8,0.8 0 1,0 1.6,0M372.8,395.4a0.8,0.8 0 1,0 -1.6,0a0.8,0.8 0 1,0 1.6,0M372.9,395.2a0.8,0.8 0 1,0 -1.6,0a0.8,0.8 0 1,0 1.6,0M373.1,403.2a0.8,0.8 0 1,0 -1.6,0a0.8,0.8 0 1,0 1.6,0M373.3,399.7a0.8,0.8 0 1,0 -1.6,0a0.8,0.8 0 1,0 1.6,0M373.5,396.3a0.8,0.8 0 1,0 -1.6,0a0.8,0.8 0 1,0 1.6,0M373.6,400.2a0.8,0.8 0 1,0 -1.6,0a0.8,0.8 0 1,0 1.6,0M373.8,395.1a0.8,0.8 0 1,0 -1.6,0a0.8,0.8 0 1,0 1.6,0M374.0,396.8a0.8,0.8 0 1,0 -1.6,0a0.8,0.8 0 1,0 1.6,0M374.1,395.7a0.8,0.8 0 1,0 -1.6,0a0.8,0.8 0 1,0 1.6,0M374.3,399.9a0.8,0.8 0 1,0 -1.6,0a0.8,0.8 0 1,0 1.6,0M374.5,389.5a0.8,0.8 0 1,0 -1.6,0a0.8,0.8 0 1,0 1.6,0M374.6,394.4a0.8,0.8 0 1,0 -1.6,0a0.8,0.8 0 1,0 1.6,0M374.8,399.9a0.8,0.8 0 1,0 -1.6,0a0.8,0.8 0 1,0 1.6,0M375.0,398.8a0.8,0.8 0 1,0 -1.6,0a0.8,0.8 0 1,0 1.6,0M375.2,389.3a0.8,0.8 0 1,0 -1.6,0a0.8,0.8 0 1,0 1.6,0M375.3,400.4a0.8,0.8 0 1,0 -1.6,0a0.8,0.8 0 1,0 1.6,0M375.5,395.8a0.8,0.8 0 1,0 -1.6,0a0.8,0.8 0 1,0 1.6,0M375.7,395.4a0.8,0.8 0 1,0 -1.6,0a0.8,0.8 0 1,0 1.6,0M375.8,399.1a0.8,0.8 0 1,0 -1.6,0a0.8,0.8 0 1,0 1.6,0M376.0,403.5a0.8,0.8 0 1,0 -1.6,0a0.8,0.8 0 1,0 1.6,0M376.2,398.4a0.8,0.8 0 1,0 -1.6,0a0.8,0.8 0 1,0 1.6,0M376.4,397.7a0.8,0.8 0 1,0 -1.6,0a0.8,0.8 0 1,0 1.6,0M376.5,394.8a0.8,0.8 0 1,0 -1.6,0a0.8,0.8 0 1,0 1.6,0M376.7,396.1a0.8,0.8 0 1,0 -1.6,0a0.8,0.8 0 1,0 1.6,0M376.9,399.0a0.8,0.8 0 1,0 -1.6,0a0.8,0.8 0 1,0 1.6,0M377.0,395.9a0.8,0.8 0 1,0 -1.6,0a0.8,0.8 0 1,0 1.6,0M377.2,397.1a0.8,0.8 0 1,0 -1.6,0a0.8,0.8 0 1,0 1.6,0M377.4,398.3a0.8,0.8 0 1,0 -1.6,0a0.8,0.8 0 1,0 1.6,0M377.6,398.9a0.8,0.8 0 1,0 -1.6,0a0.8,0.8 0 1,0 1.6,0M377.7,400.0a0.8,0.8 0 1,0 -1.6,0a0.8,0.8 0 1,0 1.6,0M377.9,396.5a0.8,0.8 0 1,0 -1.6,0a0.8,0.8 0 1,0 1.6,0M378.1,403.1a0.8,0.8 0 1,0 -1.6,0a0.8,0.8 0 1,0 1.6,0M378.2,401.5a0.8,0.8 0 1,0 -1.6,0a0.8,0.8 0 1,0 1.6,0M378.4,399.1a0.8,0.8 0 1,0 -1.6,0a0.8,0.8 0 1,0 1.6,0M378.6,404.6a0.8,0.8 0 1,0 -1.6,0a0.8,0.8 0 1,0 1.6,0M378.8,400.7a0.8,0.8 0 1,0 -1.6,0a0.8,0.8 0 1,0 1.6,0M378.9,406.7a0.8,0.8 0 1,0 -1.6,0a0.8,0.8 0 1,0 1.6,0M379.1,401.7a0.8,0.8 0 1,0 -1.6,0a0.8,0.8 0 1,0 1.6,0M379.3,396.9a0.8,0.8 0 1,0 -1.6,0a0.8,0.8 0 1,0 1.6,0M379.4,397.0a0.8,0.8 0 1,0 -1.6,0a0.8,0.8 0 1,0 1.6,0M379.6,399.3a0.8,0.8 0 1,0 -1.6,0a0.8,0.8 0 1,0 1.6,0M379.8,400.0a0.8,0.8 0 1,0 -1.6,0a0.8,0.8 0 1,0 1.6,0M380.0,404.5a0.8,0.8 0 1,0 -1.6,0a0.8,0.8 0 1,0 1.6,0M380.1,392.2a0.8,0.8 0 1,0 -1.6,0a0.8,0.8 0 1,0 1.6,0M380.3,397.1a0.8,0.8 0 1,0 -1.6,0a0.8,0.8 0 1,0 1.6,0M380.5,395.0a0.8,0.8 0 1,0 -1.6,0a0.8,0.8 0 1,0 1.6,0M380.6,402.4a0.8,0.8 0 1,0 -1.6,0a0.8,0.8 0 1,0 1.6,0M380.8,399.8a0.8,0.8 0 1,0 -1.6,0a0.8,0.8 0 1,0 1.6,0M381.0,406.0a0.8,0.8 0 1,0 -1.6,0a0.8,0.8 0 1,0 1.6,0M381.2,396.1a0.8,0.8 0 1,0 -1.6,0a0.8,0.8 0 1,0 1.6,0M381.3,395.6a0.8,0.8 0 1,0 -1.6,0a0.8,0.8 0 1,0 1.6,0M381.5,406.3a0.8,0.8 0 1,0 -1.6,0a0.8,0.8 0 1,0 1.6,0M381.7,399.3a0.8,0.8 0 1,0 -1.6,0a0.8,0.8 0 1,0 1.6,0M381.8,396.7a0.8,0.8 0 1,0 -1.6,0a0.8,0.8 0 1,0 1.6,0M382.0,405.8a0.8,0.8 0 1,0 -1.6,0a0.8,0.8 0 1,0 1.6,0M382.2,406.0a0.8,0.8 0 1,0 -1.6,0a0.8,0.8 0 1,0 1.6,0M382.3,403.1a0.8,0.8 0 1,0 -1.6,0a0.8,0.8 0 1,0 1.6,0M382.5,401.5a0.8,0.8 0 1,0 -1.6,0a0.8,0.8 0 1,0 1.6,0M382.7,404.4a0.8,0.8 0 1,0 -1.6,0a0.8,0.8 0 1,0 1.6,0M382.9,399.0a0.8,0.8 0 1,0 -1.6,0a0.8,0.8 0 1,0 1.6,0M383.0,398.2a0.8,0.8 0 1,0 -1.6,0a0.8,0.8 0 1,0 1.6,0M383.2,396.7a0.8,0.8 0 1,0 -1.6,0a0.8,0.8 0 1,0 1.6,0M383.4,396.4a0.8,0.8 0 1,0 -1.6,0a0.8,0.8 0 1,0 1.6,0M383.5,393.4a0.8,0.8 0 1,0 -1.6,0a0.8,0.8 0 1,0 1.6,0M383.7,394.7a0.8,0.8 0 1,0 -1.6,0a0.8,0.8 0 1,0 1.6,0M383.9,404.1a0.8,0.8 0 1,0 -1.6,0a0.8,0.8 0 1,0 1.6,0M384.1,401.0a0.8,0.8 0 1,0 -1.6,0a0.8,0.8 0 1,0 1.6,0M384.2,403.1a0.8,0.8 0 1,0 -1.6,0a0.8,0.8 0 1,0 1.6,0M384.4,403.2a0.8,0.8 0 1,0 -1.6,0a0.8,0.8 0 1,0 1.6,0M384.6,399.4a0.8,0.8 0 1,0 -1.6,0a0.8,0.8 0 1,0 1.6,0M384.7,399.1a0.8,0.8 0 1,0 -1.6,0a0.8,0.8 0 1,0 1.6,0M384.9,397.2a0.8,0.8 0 1,0 -1.6,0a0.8,0.8 0 1,0 1.6,0M385.1,405.1a0.8,0.8 0 1,0 -1.6,0a0.8,0.8 0 1,0 1.6,0M385.3,403.8a0.8,0.8 0 1,0 -1.6,0a0.8,0.8 0 1,0 1.6,0M385.4,399.2a0.8,0.8 0 1,0 -1.6,0a0.8,0.8 0 1,0 1.6,0M385.6,399.9a0.8,0.8 0 1,0 -1.6,0a0.8,0.8 0 1,0 1.6,0M385.8,400.3a0.8,0.8 0 1,0 -1.6,0a0.8,0.8 0 1,0 1.6,0M385.9,399.3a0.8,0.8 0 1,0 -1.6,0a0.8,0.8 0 1,0 1.6,0M386.1,402.0a0.8,0.8 0 1,0 -1.6,0a0.8,0.8 0 1,0 1.6,0M386.3,396.4a0.8,0.8 0 1,0 -1.6,0a0.8,0.8 0 1,0 1.6,0M386.5,397.8a0.8,0.8 0 1,0 -1.6,0a0.8,0.8 0 1,0 1.6,0M386.6,399.4a0.8,0.8 0 1,0 -1.6,0a0.8,0.8 0 1,0 1.6,0M386.8,401.6a0.8,0.8 0 1,0 -1.6,0a0.8,0.8 0 1,0 1.6,0M387.0,399.8a0.8,0.8 0 1,0 -1.6,0a0.8,0.8 0 1,0 1.6,0M387.1,409.4a0.8,0.8 0 1,0 -1.6,0a0.8,0.8 0 1,0 1.6,0M387.3,402.8a0.8,0.8 0 1,0 -1.6,0a0.8,0.8 0 1,0 1.6,0M387.5,399.0a0.8,0.8 0 1,0 -1.6,0a0.8,0.8 0 1,0 1.6,0M387.7,404.8a0.8,0.8 0 1,0 -1.6,0a0.8,0.8 0 1,0 1.6,0M387.8,398.3a0.8,0.8 0 1,0 -1.6,0a0.8,0.8 0 1,0 1.6,0M388.0,398.5a0.8,0.8 0 1,0 -1.6,0a0.8,0.8 0 1,0 1.6,0M388.2,404.3a0.8,0.8 0 1,0 -1.6,0a0.8,0.8 0 1,0 1.6,0M388.3,400.0a0.8,0.8 0 1,0 -1.6,0a0.8,0.8 0 1,0 1.6,0M388.5,400.3a0.8,0.8 0 1,0 -1.6,0a0.8,0.8 0 1,0 1.6,0M388.7,397.4a0.8,0.8 0 1,0 -1.6,0a0.8,0.8 0 1,0 1.6,0M388.9,396.8a0.8,0.8 0 1,0 -1.6,0a0.8,0.8 0 1,0 1.6,0M389.0,399.2a0.8,0.8 0 1,0 -1.6,0a0.8,0.8 0 1,0 1.6,0M389.2,402.3a0.8,0.8 0 1,0 -1.6,0a0.8,0.8 0 1,0 1.6,0M389.4,399.6a0.8,0.8 0 1,0 -1.6,0a0.8,0.8 0 1,0 1.6,0M389.5,399.3a0.8,0.8 0 1,0 -1.6,0a0.8,0.8 0 1,0 1.6,0M389.7,396.3a0.8,0.8 0 1,0 -1.6,0a0.8,0.8 0 1,0 1.6,0M389.9,398.0a0.8,0.8 0 1,0 -1.6,0a0.8,0.8 0 1,0 1.6,0M390.0,401.8a0.8,0.8 0 1,0 -1.6,0a0.8,0.8 0 1,0 1.6,0M390.2,404.2a0.8,0.8 0 1,0 -1.6,0a0.8,0.8 0 1,0 1.6,0M390.4,400.5a0.8,0.8 0 1,0 -1.6,0a0.8,0.8 0 1,0 1.6,0M390.6,401.9a0.8,0.8 0 1,0 -1.6,0a0.8,0.8 0 1,0 1.6,0M390.7,403.3a0.8,0.8 0 1,0 -1.6,0a0.8,0.8 0 1,0 1.6,0M390.9,399.5a0.8,0.8 0 1,0 -1.6,0a0.8,0.8 0 1,0 1.6,0M391.1,401.0a0.8,0.8 0 1,0 -1.6,0a0.8,0.8 0 1,0 1.6,0M391.2,398.7a0.8,0.8 0 1,0 -1.6,0a0.8,0.8 0 1,0 1.6,0M391.4,397.1a0.8,0.8 0 1,0 -1.6,0a0.8,0.8 0 1,0 1.6,0M391.6,400.7a0.8,0.8 0 1,0 -1.6,0a0.8,0.8 0 1,0 1.6,0M391.8,390.3a0.8,0.8 0 1,0 -1.6,0a0.8,0.8 0 1,0 1.6,0M391.9,400.3a0.8,0.8 0 1,0 -1.6,0a0.8,0.8 0 1,0 1.6,0M392.1,394.9a0.8,0.8 0 1,0 -1.6,0a0.8,0.8 0 1,0 1.6,0M392.3,398.6a0.8,0.8 0 1,0 -1.6,0a0.8,0.8 0 1,0 1.6,0M392.4,394.9a0.8,0.8 0 1,0 -1.6,0a0.8,0.8 0 1,0 1.6,0M392.6,408.1a0.8,0.8 0 1,0 -1.6,0a0.8,0.8 0 1,0 1.6,0M392.8,401.9a0.8,0.8 0 1,0 -1.6,0a0.8,0.8 0 1,0 1.6,0M393.0,398.2a0.8,0.8 0 1,0 -1.6,0a0.8,0.8 0 1,0 1.6,0M393.1,396.8a0.8,0.8 0 1,0 -1.6,0a0.8,0.8 0 1,0 1.6,0M393.3,390.3a0.8,0.8 0 1,0 -1.6,0a0.8,0.8 0 1,0 1.6,0M393.5,397.9a0.8,0.8 0 1,0 -1.6,0a0.8,0.8 0 1,0 1.6,0M393.6,394.3a0.8,0.8 0 1,0 -1.6,0a0.8,0.8 0 1,0 1.6,0M393.8,396.2a0.8,0.8 0 1,0 -1.6,0a0.8,0.8 0 1,0 1.6,0M394.0,395.5a0.8,0.8 0 1,0 -1.6,0a0.8,0.8 0 1,0 1.6,0M394.2,397.2a0.8,0.8 0 1,0 -1.6,0a0.8,0.8 0 1,0 1.6,0M394.3,399.7a0.8,0.8 0 1,0 -1.6,0a0.8,0.8 0 1,0 1.6,0M394.5,397.2a0.8,0.8 0 1,0 -1.6,0a0.8,0.8 0 1,0 1.6,0M394.7,403.2a0.8,0.8 0 1,0 -1.6,0a0.8,0.8 0 1,0 1.6,0M394.8,394.6a0.8,0.8 0 1,0 -1.6,0a0.8,0.8 0 1,0 1.6,0M395.0,402.9a0.8,0.8 0 1,0 -1.6,0a0.8,0.8 0 1,0 1.6,0M395.2,398.2a0.8,0.8 0 1,0 -1.6,0a0.8,0.8 0 1,0 1.6,0M395.4,391.1a0.8,0.8 0 1,0 -1.6,0a0.8,0.8 0 1,0 1.6,0M395.5,399.9a0.8,0.8 0 1,0 -1.6,0a0.8,0.8 0 1,0 1.6,0M395.7,399.0a0.8,0.8 0 1,0 -1.6,0a0.8,0.8 0 1,0 1.6,0M395.9,394.7a0.8,0.8 0 1,0 -1.6,0a0.8,0.8 0 1,0 1.6,0M396.0,399.0a0.8,0.8 0 1,0 -1.6,0a0.8,0.8 0 1,0 1.6,0M396.2,402.2a0.8,0.8 0 1,0 -1.6,0a0.8,0.8 0 1,0 1.6,0M396.4,398.1a0.8,0.8 0 1,0 -1.6,0a0.8,0.8 0 1,0 1.6,0M396.5,396.9a0.8,0.8 0 1,0 -1.6,0a0.8,0.8 0 1,0 1.6,0M396.7,396.4a0.8,0.8 0 1,0 -1.6,0a0.8,0.8 0 1,0 1.6,0M396.9,402.0a0.8,0.8 0 1,0 -1.6,0a0.8,0.8 0 1,0 1.6,0M397.1,392.5a0.8,0.8 0 1,0 -1.6,0a0.8,0.8 0 1,0 1.6,0M397.2,392.8a0.8,0.8 0 1,0 -1.6,0a0.8,0.8 0 1,0 1.6,0M397.4,399.0a0.8,0.8 0 1,0 -1.6,0a0.8,0.8 0 1,0 1.6,0M397.6,398.1a0.8,0.8 0 1,0 -1.6,0a0.8,0.8 0 1,0 1.6,0M397.7,400.7a0.8,0.8 0 1,0 -1.6,0a0.8,0.8 0 1,0 1.6,0M397.9,393.7a0.8,0.8 0 1,0 -1.6,0a0.8,0.8 0 1,0 1.6,0M398.1,401.8a0.8,0.8 0 1,0 -1.6,0a0.8,0.8 0 1,0 1.6,0M398.3,396.5a0.8,0.8 0 1,0 -1.6,0a0.8,0.8 0 1,0 1.6,0M398.4,400.9a0.8,0.8 0 1,0 -1.6,0a0.8,0.8 0 1,0 1.6,0M398.6,401.7a0.8,0.8 0 1,0 -1.6,0a0.8,0.8 0 1,0 1.6,0M398.8,396.4a0.8,0.8 0 1,0 -1.6,0a0.8,0.8 0 1,0 1.6,0M398.9,394.1a0.8,0.8 0 1,0 -1.6,0a0.8,0.8 0 1,0 1.6,0M399.1,399.1a0.8,0.8 0 1,0 -1.6,0a0.8,0.8 0 1,0 1.6,0M399.3,401.7a0.8,0.8 0 1,0 -1.6,0a0.8,0.8 0 1,0 1.6,0M399.5,396.0a0.8,0.8 0 1,0 -1.6,0a0.8,0.8 0 1,0 1.6,0M399.6,399.3a0.8,0.8 0 1,0 -1.6,0a0.8,0.8 0 1,0 1.6,0M399.8,397.9a0.8,0.8 0 1,0 -1.6,0a0.8,0.8 0 1,0 1.6,0M400.0,393.3a0.8,0.8 0 1,0 -1.6,0a0.8,0.8 0 1,0 1.6,0M400.1,394.8a0.8,0.8 0 1,0 -1.6,0a0.8,0.8 0 1,0 1.6,0M400.3,401.1a0.8,0.8 0 1,0 -1.6,0a0.8,0.8 0 1,0 1.6,0M400.5,390.5a0.8,0.8 0 1,0 -1.6,0a0.8,0.8 0 1,0 1.6,0M400.7,399.1a0.8,0.8 0 1,0 -1.6,0a0.8,0.8 0 1,0 1.6,0M400.8,396.1a0.8,0.8 0 1,0 -1.6,0a0.8,0.8 0 1,0 1.6,0M401.0,401.5a0.8,0.8 0 1,0 -1.6,0a0.8,0.8 0 1,0 1.6,0M401.2,399.3a0.8,0.8 0 1,0 -1.6,0a0.8,0.8 0 1,0 1.6,0M401.3,405.7a0.8,0.8 0 1,0 -1.6,0a0.8,0.8 0 1,0 1.6,0M401.5,392.3a0.8,0.8 0 1,0 -1.6,0a0.8,0.8 0 1,0 1.6,0M401.7,393.9a0.8,0.8 0 1,0 -1.6,0a0.8,0.8 0 1,0 1.6,0M401.9,403.7a0.8,0.8 0 1,0 -1.6,0a0.8,0.8 0 1,0 1.6,0M402.0,404.8a0.8,0.8 0 1,0 -1.6,0a0.8,0.8 0 1,0 1.6,0M402.2,405.2a0.8,0.8 0 1,0 -1.6,0a0.8,0.8 0 1,0 1.6,0M402.4,394.6a0.8,0.8 0 1,0 -1.6,0a0.8,0.8 0 1,0 1.6,0M402.5,400.8a0.8,0.8 0 1,0 -1.6,0a0.8,0.8 0 1,0 1.6,0M402.7,399.3a0.8,0.8 0 1,0 -1.6,0a0.8,0.8 0 1,0 1.6,0M402.9,400.3a0.8,0.8 0 1,0 -1.6,0a0.8,0.8 0 1,0 1.6,0M403.1,399.6a0.8,0.8 0 1,0 -1.6,0a0.8,0.8 0 1,0 1.6,0M403.2,403.2a0.8,0.8 0 1,0 -1.6,0a0.8,0.8 0 1,0 1.6,0M403.4,399.0a0.8,0.8 0 1,0 -1.6,0a0.8,0.8 0 1,0 1.6,0M403.6,404.5a0.8,0.8 0 1,0 -1.6,0a0.8,0.8 0 1,0 1.6,0M403.7,399.4a0.8,0.8 0 1,0 -1.6,0a0.8,0.8 0 1,0 1.6,0M403.9,397.9a0.8,0.8 0 1,0 -1.6,0a0.8,0.8 0 1,0 1.6,0M404.1,397.3a0.8,0.8 0 1,0 -1.6,0a0.8,0.8 0 1,0 1.6,0M404.2,400.0a0.8,0.8 0 1,0 -1.6,0a0.8,0.8 0 1,0 1.6,0M404.4,402.5a0.8,0.8 0 1,0 -1.6,0a0.8,0.8 0 1,0 1.6,0M404.6,398.5a0.8,0.8 0 1,0 -1.6,0a0.8,0.8 0 1,0 1.6,0M404.8,400.9a0.8,0.8 0 1,0 -1.6,0a0.8,0.8 0 1,0 1.6,0M404.9,393.2a0.8,0.8 0 1,0 -1.6,0a0.8,0.8 0 1,0 1.6,0M405.1,396.2a0.8,0.8 0 1,0 -1.6,0a0.8,0.8 0 1,0 1.6,0M405.3,399.5a0.8,0.8 0 1,0 -1.6,0a0.8,0.8 0 1,0 1.6,0M405.4,400.9a0.8,0.8 0 1,0 -1.6,0a0.8,0.8 0 1,0 1.6,0M405.6,401.8a0.8,0.8 0 1,0 -1.6,0a0.8,0.8 0 1,0 1.6,0M405.8,402.6a0.8,0.8 0 1,0 -1.6,0a0.8,0.8 0 1,0 1.6,0M406.0,400.4a0.8,0.8 0 1,0 -1.6,0a0.8,0.8 0 1,0 1.6,0M406.1,398.0a0.8,0.8 0 1,0 -1.6,0a0.8,0.8 0 1,0 1.6,0M406.3,397.1a0.8,0.8 0 1,0 -1.6,0a0.8,0.8 0 1,0 1.6,0M406.5,396.9a0.8,0.8 0 1,0 -1.6,0a0.8,0.8 0 1,0 1.6,0M406.6,391.2a0.8,0.8 0 1,0 -1.6,0a0.8,0.8 0 1,0 1.6,0M406.8,401.8a0.8,0.8 0 1,0 -1.6,0a0.8,0.8 0 1,0 1.6,0M407.0,399.0a0.8,0.8 0 1,0 -1.6,0a0.8,0.8 0 1,0 1.6,0M407.2,388.5a0.8,0.8 0 1,0 -1.6,0a0.8,0.8 0 1,0 1.6,0M407.3,406.2a0.8,0.8 0 1,0 -1.6,0a0.8,0.8 0 1,0 1.6,0M407.5,401.1a0.8,0.8 0 1,0 -1.6,0a0.8,0.8 0 1,0 1.6,0M407.7,398.5a0.8,0.8 0 1,0 -1.6,0a0.8,0.8 0 1,0 1.6,0M407.8,398.5a0.8,0.8 0 1,0 -1.6,0a0.8,0.8 0 1,0 1.6,0M408.0,397.6a0.8,0.8 0 1,0 -1.6,0a0.8,0.8 0 1,0 1.6,0M408.2,400.0a0.8,0.8 0 1,0 -1.6,0a0.8,0.8 0 1,0 1.6,0M408.4,397.7a0.8,0.8 0 1,0 -1.6,0a0.8,0.8 0 1,0 1.6,0M408.5,398.9a0.8,0.8 0 1,0 -1.6,0a0.8,0.8 0 1,0 1.6,0M408.7,396.2a0.8,0.8 0 1,0 -1.6,0a0.8,0.8 0 1,0 1.6,0M408.9,406.3a0.8,0.8 0 1,0 -1.6,0a0.8,0.8 0 1,0 1.6,0M409.0,402.4a0.8,0.8 0 1,0 -1.6,0a0.8,0.8 0 1,0 1.6,0M409.2,399.1a0.8,0.8 0 1,0 -1.6,0a0.8,0.8 0 1,0 1.6,0M409.4,403.0a0.8,0.8 0 1,0 -1.6,0a0.8,0.8 0 1,0 1.6,0M409.6,403.0a0.8,0.8 0 1,0 -1.6,0a0.8,0.8 0 1,0 1.6,0M409.7,396.7a0.8,0.8 0 1,0 -1.6,0a0.8,0.8 0 1,0 1.6,0M409.9,401.6a0.8,0.8 0 1,0 -1.6,0a0.8,0.8 0 1,0 1.6,0M410.1,396.7a0.8,0.8 0 1,0 -1.6,0a0.8,0.8 0 1,0 1.6,0M410.2,396.3a0.8,0.8 0 1,0 -1.6,0a0.8,0.8 0 1,0 1.6,0M410.4,397.9a0.8,0.8 0 1,0 -1.6,0a0.8,0.8 0 1,0 1.6,0M410.6,397.2a0.8,0.8 0 1,0 -1.6,0a0.8,0.8 0 1,0 1.6,0M410.8,399.5a0.8,0.8 0 1,0 -1.6,0a0.8,0.8 0 1,0 1.6,0M410.9,404.4a0.8,0.8 0 1,0 -1.6,0a0.8,0.8 0 1,0 1.6,0M411.1,399.2a0.8,0.8 0 1,0 -1.6,0a0.8,0.8 0 1,0 1.6,0M411.3,397.4a0.8,0.8 0 1,0 -1.6,0a0.8,0.8 0 1,0 1.6,0M411.4,401.1a0.8,0.8 0 1,0 -1.6,0a0.8,0.8 0 1,0 1.6,0M411.6,399.5a0.8,0.8 0 1,0 -1.6,0a0.8,0.8 0 1,0 1.6,0M411.8,396.3a0.8,0.8 0 1,0 -1.6,0a0.8,0.8 0 1,0 1.6,0M411.9,402.4a0.8,0.8 0 1,0 -1.6,0a0.8,0.8 0 1,0 1.6,0M412.1,396.7a0.8,0.8 0 1,0 -1.6,0a0.8,0.8 0 1,0 1.6,0M412.3,392.1a0.8,0.8 0 1,0 -1.6,0a0.8,0.8 0 1,0 1.6,0M412.5,401.2a0.8,0.8 0 1,0 -1.6,0a0.8,0.8 0 1,0 1.6,0M412.6,398.5a0.8,0.8 0 1,0 -1.6,0a0.8,0.8 0 1,0 1.6,0M412.8,399.7a0.8,0.8 0 1,0 -1.6,0a0.8,0.8 0 1,0 1.6,0M413.0,393.3a0.8,0.8 0 1,0 -1.6,0a0.8,0.8 0 1,0 1.6,0M413.1,397.9a0.8,0.8 0 1,0 -1.6,0a0.8,0.8 0 1,0 1.6,0M413.3,395.7a0.8,0.8 0 1,0 -1.6,0a0.8,0.8 0 1,0 1.6,0M413.5,401.7a0.8,0.8 0 1,0 -1.6,0a0.8,0.8 0 1,0 1.6,0M413.7,399.2a0.8,0.8 0 1,0 -1.6,0a0.8,0.8 0 1,0 1.6,0M413.8,399.1a0.8,0.8 0 1,0 -1.6,0a0.8,0.8 0 1,0 1.6,0M414.0,405.8a0.8,0.8 0 1,0 -1.6,0a0.8,0.8 0 1,0 1.6,0M414.2,393.6a0.8,0.8 0 1,0 -1.6,0a0.8,0.8 0 1,0 1.6,0M414.3,395.7a0.8,0.8 0 1,0 -1.6,0a0.8,0.8 0 1,0 1.6,0M414.5,405.7a0.8,0.8 0 1,0 -1.6,0a0.8,0.8 0 1,0 1.6,0M414.7,396.3a0.8,0.8 0 1,0 -1.6,0a0.8,0.8 0 1,0 1.6,0M414.9,399.6a0.8,0.8 0 1,0 -1.6,0a0.8,0.8 0 1,0 1.6,0M415.0,397.4a0.8,0.8 0 1,0 -1.6,0a0.8,0.8 0 1,0 1.6,0M415.2,397.7a0.8,0.8 0 1,0 -1.6,0a0.8,0.8 0 1,0 1.6,0M415.4,404.8a0.8,0.8 0 1,0 -1.6,0a0.8,0.8 0 1,0 1.6,0M415.5,399.9a0.8,0.8 0 1,0 -1.6,0a0.8,0.8 0 1,0 1.6,0M415.7,393.5a0.8,0.8 0 1,0 -1.6,0a0.8,0.8 0 1,0 1.6,0M415.9,401.3a0.8,0.8 0 1,0 -1.6,0a0.8,0.8 0 1,0 1.6,0M416.1,403.0a0.8,0.8 0 1,0 -1.6,0a0.8,0.8 0 1,0 1.6,0M416.2,404.2a0.8,0.8 0 1,0 -1.6,0a0.8,0.8 0 1,0 1.6,0M416.4,403.7a0.8,0.8 0 1,0 -1.6,0a0.8,0.8 0 1,0 1.6,0M416.6,397.8a0.8,0.8 0 1,0 -1.6,0a0.8,0.8 0 1,0 1.6,0M416.7,392.7a0.8,0.8 0 1,0 -1.6,0a0.8,0.8 0 1,0 1.6,0M416.9,397.5a0.8,0.8 0 1,0 -1.6,0a0.8,0.8 0 1,0 1.6,0M417.1,398.2a0.8,0.8 0 1,0 -1.6,0a0.8,0.8 0 1,0 1.6,0M417.3,390.6a0.8,0.8 0 1,0 -1.6,0a0.8,0.8 0 1,0 1.6,0M417.4,401.1a0.8,0.8 0 1,0 -1.6,0a0.8,0.8 0 1,0 1.6,0M417.6,401.6a0.8,0.8 0 1,0 -1.6,0a0.8,0.8 0 1,0 1.6,0M417.8,397.1a0.8,0.8 0 1,0 -1.6,0a0.8,0.8 0 1,0 1.6,0M417.9,397.0a0.8,0.8 0 1,0 -1.6,0a0.8,0.8 0 1,0 1.6,0M418.1,402.9a0.8,0.8 0 1,0 -1.6,0a0.8,0.8 0 1,0 1.6,0M418.3,403.5a0.8,0.8 0 1,0 -1.6,0a0.8,0.8 0 1,0 1.6,0M418.5,398.0a0.8,0.8 0 1,0 -1.6,0a0.8,0.8 0 1,0 1.6,0M418.6,398.2a0.8,0.8 0 1,0 -1.6,0a0.8,0.8 0 1,0 1.6,0M418.8,404.0a0.8,0.8 0 1,0 -1.6,0a0.8,0.8 0 1,0 1.6,0M419.0,399.9a0.8,0.8 0 1,0 -1.6,0a0.8,0.8 0 1,0 1.6,0M419.1,401.1a0.8,0.8 0 1,0 -1.6,0a0.8,0.8 0 1,0 1.6,0M419.3,397.4a0.8,0.8 0 1,0 -1.6,0a0.8,0.8 0 1,0 1.6,0M419.5,399.5a0.8,0.8 0 1,0 -1.6,0a0.8,0.8 0 1,0 1.6,0M419.6,399.4a0.8,0.8 0 1,0 -1.6,0a0.8,0.8 0 1,0 1.6,0M419.8,400.4a0.8,0.8 0 1,0 -1.6,0a0.8,0.8 0 1,0 1.6,0M420.0,395.1a0.8,0.8 0 1,0 -1.6,0a0.8,0.8 0 1,0 1.6,0M420.2,393.8a0.8,0.8 0 1,0 -1.6,0a0.8,0.8 0 1,0 1.6,0M420.3,400.5a0.8,0.8 0 1,0 -1.6,0a0.8,0.8 0 1,0 1.6,0M420.5,395.9a0.8,0.8 0 1,0 -1.6,0a0.8,0.8 0 1,0 1.6,0M420.7,402.0a0.8,0.8 0 1,0 -1.6,0a0.8,0.8 0 1,0 1.6,0M420.8,398.8a0.8,0.8 0 1,0 -1.6,0a0.8,0.8 0 1,0 1.6,0M421.0,396.3a0.8,0.8 0 1,0 -1.6,0a0.8,0.8 0 1,0 1.6,0M421.2,393.4a0.8,0.8 0 1,0 -1.6,0a0.8,0.8 0 1,0 1.6,0M421.4,400.5a0.8,0.8 0 1,0 -1.6,0a0.8,0.8 0 1,0 1.6,0M421.5,399.4a0.8,0.8 0 1,0 -1.6,0a0.8,0.8 0 1,0 1.6,0M421.7,398.4a0.8,0.8 0 1,0 -1.6,0a0.8,0.8 0 1,0 1.6,0M421.9,404.8a0.8,0.8 0 1,0 -1.6,0a0.8,0.8 0 1,0 1.6,0M422.0,399.0a0.8,0.8 0 1,0 -1.6,0a0.8,0.8 0 1,0 1.6,0M422.2,401.7a0.8,0.8 0 1,0 -1.6,0a0.8,0.8 0 1,0 1.6,0M422.4,397.7a0.8,0.8 0 1,0 -1.6,0a0.8,0.8 0 1,0 1.6,0M422.6,403.4a0.8,0.8 0 1,0 -1.6,0a0.8,0.8 0 1,0 1.6,0M422.7,406.6a0.8,0.8 0 1,0 -1.6,0a0.8,0.8 0 1,0 1.6,0M422.9,399.0a0.8,0.8 0 1,0 -1.6,0a0.8,0.8 0 1,0 1.6,0M423.1,398.1a0.8,0.8 0 1,0 -1.6,0a0.8,0.8 0 1,0 1.6,0M423.2,401.2a0.8,0.8 0 1,0 -1.6,0a0.8,0.8 0 1,0 1.6,0M423.4,395.7a0.8,0.8 0 1,0 -1.6,0a0.8,0.8 0 1,0 1.6,0M423.6,400.1a0.8,0.8 0 1,0 -1.6,0a0.8,0.8 0 1,0 1.6,0M423.8,401.4a0.8,0.8 0 1,0 -1.6,0a0.8,0.8 0 1,0 1.6,0M423.9,397.3a0.8,0.8 0 1,0 -1.6,0a0.8,0.8 0 1,0 1.6,0M424.1,405.0a0.8,0.8 0 1,0 -1.6,0a0.8,0.8 0 1,0 1.6,0M424.3,401.7a0.8,0.8 0 1,0 -1.6,0a0.8,0.8 0 1,0 1.6,0M424.4,399.2a0.8,0.8 0 1,0 -1.6,0a0.8,0.8 0 1,0 1.6,0M424.6,395.9a0.8,0.8 0 1,0 -1.6,0a0.8,0.8 0 1,0 1.6,0M424.8,399.7a0.8,0.8 0 1,0 -1.6,0a0.8,0.8 0 1,0 1.6,0M425.0,397.9a0.8,0.8 0 1,0 -1.6,0a0.8,0.8 0 1,0 1.6,0M425.1,401.6a0.8,0.8 0 1,0 -1.6,0a0.8,0.8 0 1,0 1.6,0M425.3,398.0a0.8,0.8 0 1,0 -1.6,0a0.8,0.8 0 1,0 1.6,0M425.5,392.8a0.8,0.8 0 1,0 -1.6,0a0.8,0.8 0 1,0 1.6,0M425.6,401.7a0.8,0.8 0 1,0 -1.6,0a0.8,0.8 0 1,0 1.6,0M425.8,390.1a0.8,0.8 0 1,0 -1.6,0a0.8,0.8 0 1,0 1.6,0M426.0,401.5a0.8,0.8 0 1,0 -1.6,0a0.8,0.8 0 1,0 1.6,0M426.1,399.0a0.8,0.8 0 1,0 -1.6,0a0.8,0.8 0 1,0 1.6,0M426.3,398.4a0.8,0.8 0 1,0 -1.6,0a0.8,0.8 0 1,0 1.6,0M426.5,395.2a0.8,0.8 0 1,0 -1.6,0a0.8,0.8 0 1,0 1.6,0M426.7,403.8a0.8,0.8 0 1,0 -1.6,0a0.8,0.8 0 1,0 1.6,0M426.8,407.0a0.8,0.8 0 1,0 -1.6,0a0.8,0.8 0 1,0 1.6,0M427.0,396.8a0.8,0.8 0 1,0 -1.6,0a0.8,0.8 0 1,0 1.6,0M427.2,396.1a0.8,0.8 0 1,0 -1.6,0a0.8,0.8 0 1,0 1.6,0M427.3,396.7a0.8,0.8 0 1,0 -1.6,0a0.8,0.8 0 1,0 1.6,0M427.5,389.1a0.8,0.8 0 1,0 -1.6,0a0.8,0.8 0 1,0 1.6,0M427.7,398.3a0.8,0.8 0 1,0 -1.6,0a0.8,0.8 0 1,0 1.6,0M427.9,398.1a0.8,0.8 0 1,0 -1.6,0a0.8,0.8 0 1,0 1.6,0M428.0,395.6a0.8,0.8 0 1,0 -1.6,0a0.8,0.8 0 1,0 1.6,0M428.2,397.7a0.8,0.8 0 1,0 -1.6,0a0.8,0.8 0 1,0 1.6,0M428.4,392.8a0.8,0.8 0 1,0 -1.6,0a0.8,0.8 0 1,0 1.6,0M428.5,403.8a0.8,0.8 0 1,0 -1.6,0a0.8,0.8 0 1,0 1.6,0M428.7,400.5a0.8,0.8 0 1,0 -1.6,0a0.8,0.8 0 1,0 1.6,0M428.9,412.1a0.8,0.8 0 1,0 -1.6,0a0.8,0.8 0 1,0 1.6,0M429.1,396.0a0.8,0.8 0 1,0 -1.6,0a0.8,0.8 0 1,0 1.6,0M429.2,400.5a0.8,0.8 0 1,0 -1.6,0a0.8,0.8 0 1,0 1.6,0M429.4,395.6a0.8,0.8 0 1,0 -1.6,0a0.8,0.8 0 1,0 1.6,0M429.6,390.9a0.8,0.8 0 1,0 -1.6,0a0.8,0.8 0 1,0 1.6,0M429.7,399.1a0.8,0.8 0 1,0 -1.6,0a0.8,0.8 0 1,0 1.6,0M429.9,400.1a0.8,0.8 0 1,0 -1.6,0a0.8,0.8 0 1,0 1.6,0M430.1,401.0a0.8,0.8 0 1,0 -1.6,0a0.8,0.8 0 1,0 1.6,0M430.3,402.3a0.8,0.8 0 1,0 -1.6,0a0.8,0.8 0 1,0 1.6,0M430.4,401.5a0.8,0.8 0 1,0 -1.6,0a0.8,0.8 0 1,0 1.6,0M430.6,396.7a0.8,0.8 0 1,0 -1.6,0a0.8,0.8 0 1,0 1.6,0M430.8,399.0a0.8,0.8 0 1,0 -1.6,0a0.8,0.8 0 1,0 1.6,0M430.9,398.8a0.8,0.8 0 1,0 -1.6,0a0.8,0.8 0 1,0 1.6,0M431.1,399.8a0.8,0.8 0 1,0 -1.6,0a0.8,0.8 0 1,0 1.6,0M431.3,395.6a0.8,0.8 0 1,0 -1.6,0a0.8,0.8 0 1,0 1.6,0M431.5,397.2a0.8,0.8 0 1,0 -1.6,0a0.8,0.8 0 1,0 1.6,0M431.6,399.6a0.8,0.8 0 1,0 -1.6,0a0.8,0.8 0 1,0 1.6,0M431.8,396.6a0.8,0.8 0 1,0 -1.6,0a0.8,0.8 0 1,0 1.6,0M432.0,399.7a0.8,0.8 0 1,0 -1.6,0a0.8,0.8 0 1,0 1.6,0M432.1,403.5a0.8,0.8 0 1,0 -1.6,0a0.8,0.8 0 1,0 1.6,0M432.3,393.6a0.8,0.8 0 1,0 -1.6,0a0.8,0.8 0 1,0 1.6,0M432.5,397.3a0.8,0.8 0 1,0 -1.6,0a0.8,0.8 0 1,0 1.6,0M432.7,402.7a0.8,0.8 0 1,0 -1.6,0a0.8,0.8 0 1,0 1.6,0M432.8,395.0a0.8,0.8 0 1,0 -1.6,0a0.8,0.8 0 1,0 1.6,0M433.0,397.8a0.8,0.8 0 1,0 -1.6,0a0.8,0.8 0 1,0 1.6,0M433.2,405.0a0.8,0.8 0 1,0 -1.6,0a0.8,0.8 0 1,0 1.6,0M433.3,393.0a0.8,0.8 0 1,0 -1.6,0a0.8,0.8 0 1,0 1.6,0M433.5,397.8a0.8,0.8 0 1,0 -1.6,0a0.8,0.8 0 1,0 1.6,0M433.7,395.7a0.8,0.8 0 1,0 -1.6,0a0.8,0.8 0 1,0 1.6,0M433.8,398.3a0.8,0.8 0 1,0 -1.6,0a0.8,0.8 0 1,0 1.6,0M434.0,399.7a0.8,0.8 0 1,0 -1.6,0a0.8,0.8 0 1,0 1.6,0M434.2,405.0a0.8,0.8 0 1,0 -1.6,0a0.8,0.8 0 1,0 1.6,0M434.4,395.4a0.8,0.8 0 1,0 -1.6,0a0.8,0.8 0 1,0 1.6,0M434.5,399.0a0.8,0.8 0 1,0 -1.6,0a0.8,0.8 0 1,0 1.6,0M434.7,400.2a0.8,0.8 0 1,0 -1.6,0a0.8,0.8 0 1,0 1.6,0M434.9,397.8a0.8,0.8 0 1,0 -1.6,0a0.8,0.8 0 1,0 1.6,0M435.0,398.8a0.8,0.8 0 1,0 -1.6,0a0.8,0.8 0 1,0 1.6,0M435.2,396.5a0.8,0.8 0 1,0 -1.6,0a0.8,0.8 0 1,0 1.6,0M435.4,400.5a0.8,0.8 0 1,0 -1.6,0a0.8,0.8 0 1,0 1.6,0M435.6,399.2a0.8,0.8 0 1,0 -1.6,0a0.8,0.8 0 1,0 1.6,0M435.7,407.2a0.8,0.8 0 1,0 -1.6,0a0.8,0.8 0 1,0 1.6,0M435.9,400.7a0.8,0.8 0 1,0 -1.6,0a0.8,0.8 0 1,0 1.6,0M436.1,396.5a0.8,0.8 0 1,0 -1.6,0a0.8,0.8 0 1,0 1.6,0M436.2,394.0a0.8,0.8 0 1,0 -1.6,0a0.8,0.8 0 1,0 1.6,0M436.4,400.5a0.8,0.8 0 1,0 -1.6,0a0.8,0.8 0 1,0 1.6,0M436.6,399.6a0.8,0.8 0 1,0 -1.6,0a0.8,0.8 0 1,0 1.6,0M436.8,393.1a0.8,0.8 0 1,0 -1.6,0a0.8,0.8 0 1,0 1.6,0M436.9,400.3a0.8,0.8 0 1,0 -1.6,0a0.8,0.8 0 1,0 1.6,0M437.1,396.3a0.8,0.8 0 1,0 -1.6,0a0.8,0.8 0 1,0 1.6,0M437.3,392.7a0.8,0.8 0 1,0 -1.6,0a0.8,0.8 0 1,0 1.6,0M437.4,398.9a0.8,0.8 0 1,0 -1.6,0a0.8,0.8 0 1,0 1.6,0M437.6,394.5a0.8,0.8 0 1,0 -1.6,0a0.8,0.8 0 1,0 1.6,0M437.8,401.8a0.8,0.8 0 1,0 -1.6,0a0.8,0.8 0 1,0 1.6,0M438.0,398.3a0.8,0.8 0 1,0 -1.6,0a0.8,0.8 0 1,0 1.6,0M438.1,399.4a0.8,0.8 0 1,0 -1.6,0a0.8,0.8 0 1,0 1.6,0M438.3,398.7a0.8,0.8 0 1,0 -1.6,0a0.8,0.8 0 1,0 1.6,0M438.5,394.8a0.8,0.8 0 1,0 -1.6,0a0.8,0.8 0 1,0 1.6,0M438.6,390.1a0.8,0.8 0 1,0 -1.6,0a0.8,0.8 0 1,0 1.6,0M438.8,401.6a0.8,0.8 0 1,0 -1.6,0a0.8,0.8 0 1,0 1.6,0M439.0,401.3a0.8,0.8 0 1,0 -1.6,0a0.8,0.8 0 1,0 1.6,0M439.2,397.2a0.8,0.8 0 1,0 -1.6,0a0.8,0.8 0 1,0 1.6,0M439.3,403.1a0.8,0.8 0 1,0 -1.6,0a0.8,0.8 0 1,0 1.6,0M439.5,397.2a0.8,0.8 0 1,0 -1.6,0a0.8,0.8 0 1,0 1.6,0M439.7,396.9a0.8,0.8 0 1,0 -1.6,0a0.8,0.8 0 1,0 1.6,0M439.8,400.1a0.8,0.8 0 1,0 -1.6,0a0.8,0.8 0 1,0 1.6,0M440.0,397.1a0.8,0.8 0 1,0 -1.6,0a0.8,0.8 0 1,0 1.6,0M440.2,405.0a0.8,0.8 0 1,0 -1.6,0a0.8,0.8 0 1,0 1.6,0M440.4,396.2a0.8,0.8 0 1,0 -1.6,0a0.8,0.8 0 1,0 1.6,0M440.5,404.9a0.8,0.8 0 1,0 -1.6,0a0.8,0.8 0 1,0 1.6,0M440.7,401.7a0.8,0.8 0 1,0 -1.6,0a0.8,0.8 0 1,0 1.6,0M440.9,401.2a0.8,0.8 0 1,0 -1.6,0a0.8,0.8 0 1,0 1.6,0M441.0,400.6a0.8,0.8 0 1,0 -1.6,0a0.8,0.8 0 1,0 1.6,0M441.2,395.8a0.8,0.8 0 1,0 -1.6,0a0.8,0.8 0 1,0 1.6,0M441.4,398.8a0.8,0.8 0 1,0 -1.6,0a0.8,0.8 0 1,0 1.6,0M441.5,400.6a0.8,0.8 0 1,0 -1.6,0a0.8,0.8 0 1,0 1.6,0M441.7,397.0a0.8,0.8 0 1,0 -1.6,0a0.8,0.8 0 1,0 1.6,0M441.9,393.1a0.8,0.8 0 1,0 -1.6,0a0.8,0.8 0 1,0 1.6,0M442.1,399.1a0.8,0.8 0 1,0 -1.6,0a0.8,0.8 0 1,0 1.6,0M442.2,397.7a0.8,0.8 0 1,0 -1.6,0a0.8,0.8 0 1,0 1.6,0M442.4,394.4a0.8,0.8 0 1,0 -1.6,0a0.8,0.8 0 1,0 1.6,0M442.6,398.1a0.8,0.8 0 1,0 -1.6,0a0.8,0.8 0 1,0 1.6,0M442.7,404.0a0.8,0.8 0 1,0 -1.6,0a0.8,0.8 0 1,0 1.6,0M442.9,389.7a0.8,0.8 0 1,0 -1.6,0a0.8,0.8 0 1,0 1.6,0M443.1,390.7a0.8,0.8 0 1,0 -1.6,0a0.8,0.8 0 1,0 1.6,0M443.3,406.6a0.8,0.8 0 1,0 -1.6,0a0.8,0.8 0 1,0 1.6,0M443.4,399.2a0.8,0.8 0 1,0 -1.6,0a0.8,0.8 0 1,0 1.6,0M443.6,397.5a0.8,0.8 0 1,0 -1.6,0a0.8,0.8 0 1,0 1.6,0M443.8,395.4a0.8,0.8 0 1,0 -1.6,0a0.8,0.8 0 1,0 1.6,0M443.9,396.6a0.8,0.8 0 1,0 -1.6,0a0.8,0.8 0 1,0 1.6,0M444.1,400.1a0.8,0.8 0 1,0 -1.6,0a0.8,0.8 0 1,0 1.6,0M444.3,403.1a0.8,0.8 0 1,0 -1.6,0a0.8,0.8 0 1,0 1.6,0M444.5,398.7a0.8,0.8 0 1,0 -1.6,0a0.8,0.8 0 1,0 1.6,0M444.6,395.2a0.8,0.8 0 1,0 -1.6,0a0.8,0.8 0 1,0 1.6,0M444.8,403.2a0.8,0.8 0 1,0 -1.6,0a0.8,0.8 0 1,0 1.6,0M445.0,403.0a0.8,0.8 0 1,0 -1.6,0a0.8,0.8 0 1,0 1.6,0M445.1,399.2a0.8,0.8 0 1,0 -1.6,0a0.8,0.8 0 1,0 1.6,0M445.3,406.4a0.8,0.8 0 1,0 -1.6,0a0.8,0.8 0 1,0 1.6,0M445.5,400.1a0.8,0.8 0 1,0 -1.6,0a0.8,0.8 0 1,0 1.6,0M445.7,400.7a0.8,0.8 0 1,0 -1.6,0a0.8,0.8 0 1,0 1.6,0M445.8,397.4a0.8,0.8 0 1,0 -1.6,0a0.8,0.8 0 1,0 1.6,0M446.0,401.8a0.8,0.8 0 1,0 -1.6,0a0.8,0.8 0 1,0 1.6,0M446.2,402.4a0.8,0.8 0 1,0 -1.6,0a0.8,0.8 0 1,0 1.6,0M446.3,400.6a0.8,0.8 0 1,0 -1.6,0a0.8,0.8 0 1,0 1.6,0M446.5,399.3a0.8,0.8 0 1,0 -1.6,0a0.8,0.8 0 1,0 1.6,0M446.7,401.6a0.8,0.8 0 1,0 -1.6,0a0.8,0.8 0 1,0 1.6,0M446.9,399.1a0.8,0.8 0 1,0 -1.6,0a0.8,0.8 0 1,0 1.6,0M447.0,396.3a0.8,0.8 0 1,0 -1.6,0a0.8,0.8 0 1,0 1.6,0M447.2,394.6a0.8,0.8 0 1,0 -1.6,0a0.8,0.8 0 1,0 1.6,0M447.4,392.6a0.8,0.8 0 1,0 -1.6,0a0.8,0.8 0 1,0 1.6,0M447.5,402.1a0.8,0.8 0 1,0 -1.6,0a0.8,0.8 0 1,0 1.6,0M447.7,400.7a0.8,0.8 0 1,0 -1.6,0a0.8,0.8 0 1,0 1.6,0M447.9,408.5a0.8,0.8 0 1,0 -1.6,0a0.8,0.8 0 1,0 1.6,0M448.1,391.9a0.8,0.8 0 1,0 -1.6,0a0.8,0.8 0 1,0 1.6,0M448.2,401.8a0.8,0.8 0 1,0 -1.6,0a0.8,0.8 0 1,0 1.6,0M448.4,399.2a0.8,0.8 0 1,0 -1.6,0a0.8,0.8 0 1,0 1.6,0M448.6,397.1a0.8,0.8 0 1,0 -1.6,0a0.8,0.8 0 1,0 1.6,0M448.7,404.2a0.8,0.8 0 1,0 -1.6,0a0.8,0.8 0 1,0 1.6,0M448.9,397.3a0.8,0.8 0 1,0 -1.6,0a0.8,0.8 0 1,0 1.6,0M449.1,399.2a0.8,0.8 0 1,0 -1.6,0a0.8,0.8 0 1,0 1.6,0M449.2,406.0a0.8,0.8 0 1,0 -1.6,0a0.8,0.8 0 1,0 1.6,0M449.4,398.0a0.8,0.8 0 1,0 -1.6,0a0.8,0.8 0 1,0 1.6,0M449.6,394.6a0.8,0.8 0 1,0 -1.6,0a0.8,0.8 0 1,0 1.6,0M449.8,406.2a0.8,0.8 0 1,0 -1.6,0a0.8,0.8 0 1,0 1.6,0M449.9,396.0a0.8,0.8 0 1,0 -1.6,0a0.8,0.8 0 1,0 1.6,0M450.1,398.3a0.8,0.8 0 1,0 -1.6,0a0.8,0.8 0 1,0 1.6,0M450.3,397.3a0.8,0.8 0 1,0 -1.6,0a0.8,0.8 0 1,0 1.6,0M450.4,397.4a0.8,0.8 0 1,0 -1.6,0a0.8,0.8 0 1,0 1.6,0M450.6,394.2a0.8,0.8 0 1,0 -1.6,0a0.8,0.8 0 1,0 1.6,0M450.8,399.9a0.8,0.8 0 1,0 -1.6,0a0.8,0.8 0 1,0 1.6,0M451.0,395.8a0.8,0.8 0 1,0 -1.6,0a0.8,0.8 0 1,0 1.6,0M451.1,400.6a0.8,0.8 0 1,0 -1.6,0a0.8,0.8 0 1,0 1.6,0M451.3,396.3a0.8,0.8 0 1,0 -1.6,0a0.8,0.8 0 1,0 1.6,0M451.5,402.2a0.8,0.8 0 1,0 -1.6,0a0.8,0.8 0 1,0 1.6,0M451.6,399.5a0.8,0.8 0 1,0 -1.6,0a0.8,0.8 0 1,0 1.6,0M451.8,392.5a0.8,0.8 0 1,0 -1.6,0a0.8,0.8 0 1,0 1.6,0M452.0,397.4a0.8,0.8 0 1,0 -1.6,0a0.8,0.8 0 1,0 1.6,0M452.2,399.7a0.8,0.8 0 1,0 -1.6,0a0.8,0.8 0 1,0 1.6,0M452.3,403.4a0.8,0.8 0 1,0 -1.6,0a0.8,0.8 0 1,0 1.6,0M452.5,402.1a0.8,0.8 0 1,0 -1.6,0a0.8,0.8 0 1,0 1.6,0M452.7,398.4a0.8,0.8 0 1,0 -1.6,0a0.8,0.8 0 1,0 1.6,0M452.8,395.5a0.8,0.8 0 1,0 -1.6,0a0.8,0.8 0 1,0 1.6,0M453.0,397.5a0.8,0.8 0 1,0 -1.6,0a0.8,0.8 0 1,0 1.6,0M453.2,397.1a0.8,0.8 0 1,0 -1.6,0a0.8,0.8 0 1,0 1.6,0M453.4,399.3a0.8,0.8 0 1,0 -1.6,0a0.8,0.8 0 1,0 1.6,0M453.5,394.0a0.8,0.8 0 1,0 -1.6,0a0.8,0.8 0 1,0 1.6,0M453.7,400.6a0.8,0.8 0 1,0 -1.6,0a0.8,0.8 0 1,0 1.6,0M453.9,401.2a0.8,0.8 0 1,0 -1.6,0a0.8,0.8 0 1,0 1.6,0M454.0,395.7a0.8,0.8 0 1,0 -1.6,0a0.8,0.8 0 1,0 1.6,0M454.2,398.9a0.8,0.8 0 1,0 -1.6,0a0.8,0.8 0 1,0 1.6,0M454.4,400.2a0.8,0.8 0 1,0 -1.6,0a0.8,0.8 0 1,0 1.6,0M454.6,401.3a0.8,0.8 0 1,0 -1.6,0a0.8,0.8 0 1,0 1.6,0M454.7,400.1a0.8,0.8 0 1,0 -1.6,0a0.8,0.8 0 1,0 1.6,0M454.9,396.7a0.8,0.8 0 1,0 -1.6,0a0.8,0.8 0 1,0 1.6,0M455.1,397.8a0.8,0.8 0 1,0 -1.6,0a0.8,0.8 0 1,0 1.6,0M455.2,403.7a0.8,0.8 0 1,0 -1.6,0a0.8,0.8 0 1,0 1.6,0M455.4,397.5a0.8,0.8 0 1,0 -1.6,0a0.8,0.8 0 1,0 1.6,0M455.6,398.4a0.8,0.8 0 1,0 -1.6,0a0.8,0.8 0 1,0 1.6,0M455.8,402.9a0.8,0.8 0 1,0 -1.6,0a0.8,0.8 0 1,0 1.6,0M455.9,396.2a0.8,0.8 0 1,0 -1.6,0a0.8,0.8 0 1,0 1.6,0M456.1,400.2a0.8,0.8 0 1,0 -1.6,0a0.8,0.8 0 1,0 1.6,0M456.3,400.4a0.8,0.8 0 1,0 -1.6,0a0.8,0.8 0 1,0 1.6,0M456.4,396.1a0.8,0.8 0 1,0 -1.6,0a0.8,0.8 0 1,0 1.6,0M456.6,394.1a0.8,0.8 0 1,0 -1.6,0a0.8,0.8 0 1,0 1.6,0M456.8,401.7a0.8,0.8 0 1,0 -1.6,0a0.8,0.8 0 1,0 1.6,0M456.9,397.4a0.8,0.8 0 1,0 -1.6,0a0.8,0.8 0 1,0 1.6,0M457.1,402.4a0.8,0.8 0 1,0 -1.6,0a0.8,0.8 0 1,0 1.6,0M457.3,390.3a0.8,0.8 0 1,0 -1.6,0a0.8,0.8 0 1,0 1.6,0M457.5,401.0a0.8,0.8 0 1,0 -1.6,0a0.8,0.8 0 1,0 1.6,0M457.6,394.6a0.8,0.8 0 1,0 -1.6,0a0.8,0.8 0 1,0 1.6,0M457.8,401.5a0.8,0.8 0 1,0 -1.6,0a0.8,0.8 0 1,0 1.6,0M458.0,396.0a0.8,0.8 0 1,0 -1.6,0a0.8,0.8 0 1,0 1.6,0M458.1,390.7a0.8,0.8 0 1,0 -1.6,0a0.8,0.8 0 1,0 1.6,0M458.3,408.7a0.8,0.8 0 1,0 -1.6,0a0.8,0.8 0 1,0 1.6,0M458.5,400.7a0.8,0.8 0 1,0 -1.6,0a0.8,0.8 0 1,0 1.6,0M458.7,397.2a0.8,0.8 0 1,0 -1.6,0a0.8,0.8 0 1,0 1.6,0M458.8,399.4a0.8,0.8 0 1,0 -1.6,0a0.8,0.8 0 1,0 1.6,0M459.0,401.6a0.8,0.8 0 1,0 -1.6,0a0.8,0.8 0 1,0 1.6,0M459.2,391.0a0.8,0.8 0 1,0 -1.6,0a0.8,0.8 0 1,0 1.6,0M459.3,398.8a0.8,0.8 0 1,0 -1.6,0a0.8,0.8 0 1,0 1.6,0M459.5,405.3a0.8,0.8 0 1,0 -1.6,0a0.8,0.8 0 1,0 1.6,0M459.7,395.9a0.8,0.8 0 1,0 -1.6,0a0.8,0.8 0 1,0 1.6,0M459.9,405.6a0.8,0.8 0 1,0 -1.6,0a0.8,0.8 0 1,0 1.6,0M460.0,394.7a0.8,0.8 0 1,0 -1.6,0a0.8,0.8 0 1,0 1.6,0M460.2,401.3a0.8,0.8 0 1,0 -1.6,0a0.8,0.8 0 1,0 1.6,0M460.4,398.5a0.8,0.8 0 1,0 -1.6,0a0.8,0.8 0 1,0 1.6,0M460.5,394.3a0.8,0.8 0 1,0 -1.6,0a0.8,0.8 0 1,0 1.6,0M460.7,398.7a0.8,0.8 0 1,0 -1.6,0a0.8,0.8 0 1,0 1.6,0M460.9,404.4a0.8,0.8 0 1,0 -1.6,0a0.8,0.8 0 1,0 1.6,0M461.1,405.5a0.8,0.8 0 1,0 -1.6,0a0.8,0.8 0 1,0 1.6,0M461.2,394.6a0.8,0.8 0 1,0 -1.6,0a0.8,0.8 0 1,0 1.6,0M461.4,396.3a0.8,0.8 0 1,0 -1.6,0a0.8,0.8 0 1,0 1.6,0M461.6,402.2a0.8,0.8 0 1,0 -1.6,0a0.8,0.8 0 1,0 1.6,0M461.7,395.8a0.8,0.8 0 1,0 -1.6,0a0.8,0.8 0 1,0 1.6,0M461.9,397.2a0.8,0.8 0 1,0 -1.6,0a0.8,0.8 0 1,0 1.6,0M462.1,396.6a0.8,0.8 0 1,0 -1.6,0a0.8,0.8 0 1,0 1.6,0M462.3,407.6a0.8,0.8 0 1,0 -1.6,0a0.8,0.8 0 1,0 1.6,0M462.4,400.2a0.8,0.8 0 1,0 -1.6,0a0.8,0.8 0 1,0 1.6,0M462.6,395.7a0.8,0.8 0 1,0 -1.6,0a0.8,0.8 0 1,0 1.6,0M462.8,396.3a0.8,0.8 0 1,0 -1.6,0a0.8,0.8 0 1,0 1.6,0M462.9,395.8a0.8,0.8 0 1,0 -1.6,0a0.8,0.8 0 1,0 1.6,0M463.1,408.4a0.8,0.8 0 1,0 -1.6,0a0.8,0.8 0 1,0 1.6,0M463.3,398.5a0.8,0.8 0 1,0 -1.6,0a0.8,0.8 0 1,0 1.6,0M463.4,397.2a0.8,0.8 0 1,0 -1.6,0a0.8,0.8 0 1,0 1.6,0M463.6,389.4a0.8,0.8 0 1,0 -1.6,0a0.8,0.8 0 1,0 1.6,0M463.8,402.7a0.8,0.8 0 1,0 -1.6,0a0.8,0.8 0 1,0 1.6,0M464.0,400.3a0.8,0.8 0 1,0 -1.6,0a0.8,0.8 0 1,0 1.6,0M464.1,399.0a0.8,0.8 0 1,0 -1.6,0a0.8,0.8 0 1,0 1.6,0M464.3,395.7a0.8,0.8 0 1,0 -1.6,0a0.8,0.8 0 1,0 1.6,0M464.5,400.8a0.8,0.8 0 1,0 -1.6,0a0.8,0.8 0 1,0 1.6,0M464.6,394.8a0.8,0.8 0 1,0 -1.6,0a0.8,0.8 0 1,0 1.6,0M464.8,402.1a0.8,0.8 0 1,0 -1.6,0a0.8,0.8 0 1,0 1.6,0M465.0,398.1a0.8,0.8 0 1,0 -1.6,0a0.8,0.8 0 1,0 1.6,0M465.2,401.1a0.8,0.8 0 1,0 -1.6,0a0.8,0.8 0 1,0 1.6,0M465.3,398.5a0.8,0.8 0 1,0 -1.6,0a0.8,0.8 0 1,0 1.6,0M465.5,401.7a0.8,0.8 0 1,0 -1.6,0a0.8,0.8 0 1,0 1.6,0M465.7,405.1a0.8,0.8 0 1,0 -1.6,0a0.8,0.8 0 1,0 1.6,0M465.8,395.0a0.8,0.8 0 1,0 -1.6,0a0.8,0.8 0 1,0 1.6,0M466.0,397.9a0.8,0.8 0 1,0 -1.6,0a0.8,0.8 0 1,0 1.6,0M466.2,401.2a0.8,0.8 0 1,0 -1.6,0a0.8,0.8 0 1,0 1.6,0M466.4,398.3a0.8,0.8 0 1,0 -1.6,0a0.8,0.8 0 1,0 1.6,0M466.5,395.4a0.8,0.8 0 1,0 -1.6,0a0.8,0.8 0 1,0 1.6,0M466.7,402.8a0.8,0.8 0 1,0 -1.6,0a0.8,0.8 0 1,0 1.6,0M466.9,399.5a0.8,0.8 0 1,0 -1.6,0a0.8,0.8 0 1,0 1.6,0M467.0,397.1a0.8,0.8 0 1,0 -1.6,0a0.8,0.8 0 1,0 1.6,0M467.2,397.1a0.8,0.8 0 1,0 -1.6,0a0.8,0.8 0 1,0 1.6,0M467.4,400.4a0.8,0.8 0 1,0 -1.6,0a0.8,0.8 0 1,0 1.6,0M467.6,407.1a0.8,0.8 0 1,0 -1.6,0a0.8,0.8 0 1,0 1.6,0M467.7,394.4a0.8,0.8 0 1,0 -1.6,0a0.8,0.8 0 1,0 1.6,0M467.9,397.9a0.8,0.8 0 1,0 -1.6,0a0.8,0.8 0 1,0 1.6,0M468.1,399.0a0.8,0.8 0 1,0 -1.6,0a0.8,0.8 0 1,0 1.6,0M468.2,400.2a0.8,0.8 0 1,0 -1.6,0a0.8,0.8 0 1,0 1.6,0M468.4,398.1a0.8,0.8 0 1,0 -1.6,0a0.8,0.8 0 1,0 1.6,0M468.6,400.7a0.8,0.8 0 1,0 -1.6,0a0.8,0.8 0 1,0 1.6,0M468.8,403.0a0.8,0.8 0 1,0 -1.6,0a0.8,0.8 0 1,0 1.6,0M468.9,401.9a0.8,0.8 0 1,0 -1.6,0a0.8,0.8 0 1,0 1.6,0M469.1,401.4a0.8,0.8 0 1,0 -1.6,0a0.8,0.8 0 1,0 1.6,0M469.3,401.4a0.8,0.8 0 1,0 -1.6,0a0.8,0.8 0 1,0 1.6,0M469.4,403.5a0.8,0.8 0 1,0 -1.6,0a0.8,0.8 0 1,0 1.6,0M469.6,396.7a0.8,0.8 0 1,0 -1.6,0a0.8,0.8 0 1,0 1.6,0M469.8,404.1a0.8,0.8 0 1,0 -1.6,0a0.8,0.8 0 1,0 1.6,0M470.0,396.6a0.8,0.8 0 1,0 -1.6,0a0.8,0.8 0 1,0 1.6,0M470.1,402.9a0.8,0.8 0 1,0 -1.6,0a0.8,0.8 0 1,0 1.6,0M470.3,397.8a0.8,0.8 0 1,0 -1.6,0a0.8,0.8 0 1,0 1.6,0M470.5,393.9a0.8,0.8 0 1,0 -1.6,0a0.8,0.8 0 1,0 1.6,0M470.6,398.3a0.8,0.8 0 1,0 -1.6,0a0.8,0.8 0 1,0 1.6,0M470.8,401.9a0.8,0.8 0 1,0 -1.6,0a0.8,0.8 0 1,0 1.6,0M471.0,398.9a0.8,0.8 0 1,0 -1.6,0a0.8,0.8 0 1,0 1.6,0M471.1,398.5a0.8,0.8 0 1,0 -1.6,0a0.8,0.8 0 1,0 1.6,0M471.3,405.7a0.8,0.8 0 1,0 -1.6,0a0.8,0.8 0 1,0 1.6,0M471.5,401.4a0.8,0.8 0 1,0 -1.6,0a0.8,0.8 0 1,0 1.6,0M471.7,398.5a0.8,0.8 0 1,0 -1.6,0a0.8,0.8 0 1,0 1.6,0M471.8,400.9a0.8,0.8 0 1,0 -1.6,0a0.8,0.8 0 1,0 1.6,0M472.0,398.8a0.8,0.8 0 1,0 -1.6,0a0.8,0.8 0 1,0 1.6,0M472.2,396.3a0.8,0.8 0 1,0 -1.6,0a0.8,0.8 0 1,0 1.6,0M472.3,396.2a0.8,0.8 0 1,0 -1.6,0a0.8,0.8 0 1,0 1.6,0M472.5,395.7a0.8,0.8 0 1,0 -1.6,0a0.8,0.8 0 1,0 1.6,0M472.7,396.9a0.8,0.8 0 1,0 -1.6,0a0.8,0.8 0 1,0 1.6,0M472.9,400.2a0.8,0.8 0 1,0 -1.6,0a0.8,0.8 0 1,0 1.6,0M473.0,399.2a0.8,0.8 0 1,0 -1.6,0a0.8,0.8 0 1,0 1.6,0M473.2,400.1a0.8,0.8 0 1,0 -1.6,0a0.8,0.8 0 1,0 1.6,0M473.4,400.3a0.8,0.8 0 1,0 -1.6,0a0.8,0.8 0 1,0 1.6,0M473.5,399.8a0.8,0.8 0 1,0 -1.6,0a0.8,0.8 0 1,0 1.6,0M473.7,405.6a0.8,0.8 0 1,0 -1.6,0a0.8,0.8 0 1,0 1.6,0M473.9,400.4a0.8,0.8 0 1,0 -1.6,0a0.8,0.8 0 1,0 1.6,0M474.1,399.2a0.8,0.8 0 1,0 -1.6,0a0.8,0.8 0 1,0 1.6,0M474.2,402.8a0.8,0.8 0 1,0 -1.6,0a0.8,0.8 0 1,0 1.6,0M474.4,399.2a0.8,0.8 0 1,0 -1.6,0a0.8,0.8 0 1,0 1.6,0" fill="none" stroke="#8a22ff" stroke-width="0.8"/>
<line x1="378.90" y1="435.00" x2="473.20" y2="408.40" stroke="#3ab8dc" stroke-width="0.9" stroke-dasharray="1.6,1.2"/>
<line x1="460.20" y1="435.00" x2="473.20" y2="408.40" stroke="#3ab8dc" stroke-width="0.9" stroke-dasharray="1.6,1.2"/>
<rect x="378.9" y="435.0" width="81.30000000000001" height="65.80000000000001" fill="white"/>
<line x1="378.90" y1="451.45" x2="460.20" y2="451.45" stroke="#666" stroke-width="0.9" stroke-dasharray="1.3,1.7"/>
<line x1="378.90" y1="467.90" x2="460.20" y2="467.90" stroke="#666" stroke-width="0.9" stroke-dasharray="1.3,1.7"/>
<line x1="378.90" y1="484.35" x2="460.20" y2="484.35" stroke="#666" stroke-width="0.9" stroke-dasharray="1.3,1.7"/>
<text x="376.20" y="438.10" font-size="8.8" fill="#333333" text-anchor="end"  stroke="#333333" stroke-width="0.2">300</text>
<line x1="378.90" y1="435.00" x2="380.90" y2="435.00" stroke="#555" stroke-width="0.9" />
<text x="376.20" y="454.55" font-size="8.8" fill="#333333" text-anchor="end"  stroke="#333333" stroke-width="0.2">275</text>
<line x1="378.90" y1="451.45" x2="380.90" y2="451.45" stroke="#555" stroke-width="0.9" />
<text x="376.20" y="471.00" font-size="8.8" fill="#333333" text-anchor="end"  stroke="#333333" stroke-width="0.2">250</text>
<line x1="378.90" y1="467.90" x2="380.90" y2="467.90" stroke="#555" stroke-width="0.9" />
<text x="376.20" y="487.45" font-size="8.8" fill="#333333" text-anchor="end"  stroke="#333333" stroke-width="0.2">225</text>
<line x1="378.90" y1="484.35" x2="380.90" y2="484.35" stroke="#555" stroke-width="0.9" />
<text x="376.20" y="503.90" font-size="8.8" fill="#333333" text-anchor="end"  stroke="#333333" stroke-width="0.2">200</text>
<line x1="378.90" y1="500.80" x2="380.90" y2="500.80" stroke="#555" stroke-width="0.9" />
<text x="395.60" y="509.50" font-size="8.8" fill="#333333" text-anchor="middle"  stroke="#333333" stroke-width="0.2">980</text>
<line x1="395.60" y1="500.80" x2="395.60" y2="498.80" stroke="#555" stroke-width="0.9" />
<text x="427.50" y="509.50" font-size="8.8" fill="#333333" text-anchor="middle"  stroke="#333333" stroke-width="0.2">990</text>
<line x1="427.50" y1="500.80" x2="427.50" y2="498.80" stroke="#555" stroke-width="0.9" />
<text x="459.40" y="509.50" font-size="8.8" fill="#333333" text-anchor="middle"  stroke="#333333" stroke-width="0.2">1000</text>
<line x1="459.40" y1="500.80" x2="459.40" y2="498.80" stroke="#555" stroke-width="0.9" />
<clipPath id="icl"><rect x="378.9" y="435.0" width="81.30000000000001" height="65.80000000000001"/></clipPath>
<g clip-path="url(#icl)">
<polyline points="379.65,477.35 382.84,477.90 386.03,478.83 389.22,463.11 392.41,467.18 395.60,477.90 398.79,467.74 401.98,471.43 405.17,478.64 408.36,473.10 411.55,472.73 414.74,464.04 417.93,483.82 421.12,467.55 424.31,466.81 427.50,463.48 430.69,478.27 433.88,470.88 437.07,473.28 440.26,465.33 443.45,476.42 446.64,469.03 449.83,474.94 453.02,463.48 456.21,464.41 459.40,464.04" fill="none" stroke="#a860f0" stroke-width="0.9" stroke-linejoin="round" />
<circle cx="379.65" cy="477.35" r="1.8" fill="white" stroke="#a860f0" stroke-width="0.8"/>
<circle cx="382.84" cy="477.90" r="1.8" fill="white" stroke="#a860f0" stroke-width="0.8"/>
<circle cx="386.03" cy="478.83" r="1.8" fill="white" stroke="#a860f0" stroke-width="0.8"/>
<circle cx="389.22" cy="463.11" r="1.8" fill="white" stroke="#a860f0" stroke-width="0.8"/>
<circle cx="392.41" cy="467.18" r="1.8" fill="white" stroke="#a860f0" stroke-width="0.8"/>
<circle cx="395.60" cy="477.90" r="1.8" fill="white" stroke="#a860f0" stroke-width="0.8"/>
<circle cx="398.79" cy="467.74" r="1.8" fill="white" stroke="#a860f0" stroke-width="0.8"/>
<circle cx="401.98" cy="471.43" r="1.8" fill="white" stroke="#a860f0" stroke-width="0.8"/>
<circle cx="405.17" cy="478.64" r="1.8" fill="white" stroke="#a860f0" stroke-width="0.8"/>
<circle cx="408.36" cy="473.10" r="1.8" fill="white" stroke="#a860f0" stroke-width="0.8"/>
<circle cx="411.55" cy="472.73" r="1.8" fill="white" stroke="#a860f0" stroke-width="0.8"/>
<circle cx="414.74" cy="464.04" r="1.8" fill="white" stroke="#a860f0" stroke-width="0.8"/>
<circle cx="417.93" cy="483.82" r="1.8" fill="white" stroke="#a860f0" stroke-width="0.8"/>
<circle cx="421.12" cy="467.55" r="1.8" fill="white" stroke="#a860f0" stroke-width="0.8"/>
<circle cx="424.31" cy="466.81" r="1.8" fill="white" stroke="#a860f0" stroke-width="0.8"/>
<circle cx="427.50" cy="463.48" r="1.8" fill="white" stroke="#a860f0" stroke-width="0.8"/>
<circle cx="430.69" cy="478.27" r="1.8" fill="white" stroke="#a860f0" stroke-width="0.8"/>
<circle cx="433.88" cy="470.88" r="1.8" fill="white" stroke="#a860f0" stroke-width="0.8"/>
<circle cx="437.07" cy="473.28" r="1.8" fill="white" stroke="#a860f0" stroke-width="0.8"/>
<circle cx="440.26" cy="465.33" r="1.8" fill="white" stroke="#a860f0" stroke-width="0.8"/>
<circle cx="443.45" cy="476.42" r="1.8" fill="white" stroke="#a860f0" stroke-width="0.8"/>
<circle cx="446.64" cy="469.03" r="1.8" fill="white" stroke="#a860f0" stroke-width="0.8"/>
<circle cx="449.83" cy="474.94" r="1.8" fill="white" stroke="#a860f0" stroke-width="0.8"/>
<circle cx="453.02" cy="463.48" r="1.8" fill="white" stroke="#a860f0" stroke-width="0.8"/>
<circle cx="456.21" cy="464.41" r="1.8" fill="white" stroke="#a860f0" stroke-width="0.8"/>
<circle cx="459.40" cy="464.04" r="1.8" fill="white" stroke="#a860f0" stroke-width="0.8"/>
</g>
<rect x="378.9" y="435.0" width="81.30000000000001" height="65.80000000000001" fill="none" stroke="#555" stroke-width="1.2"/>
<rect x="302.50" y="379.00" width="171.50" height="137.60" fill="none" stroke="#1a1a1a" stroke-width="1.4"/>
</svg>
</body></html>
